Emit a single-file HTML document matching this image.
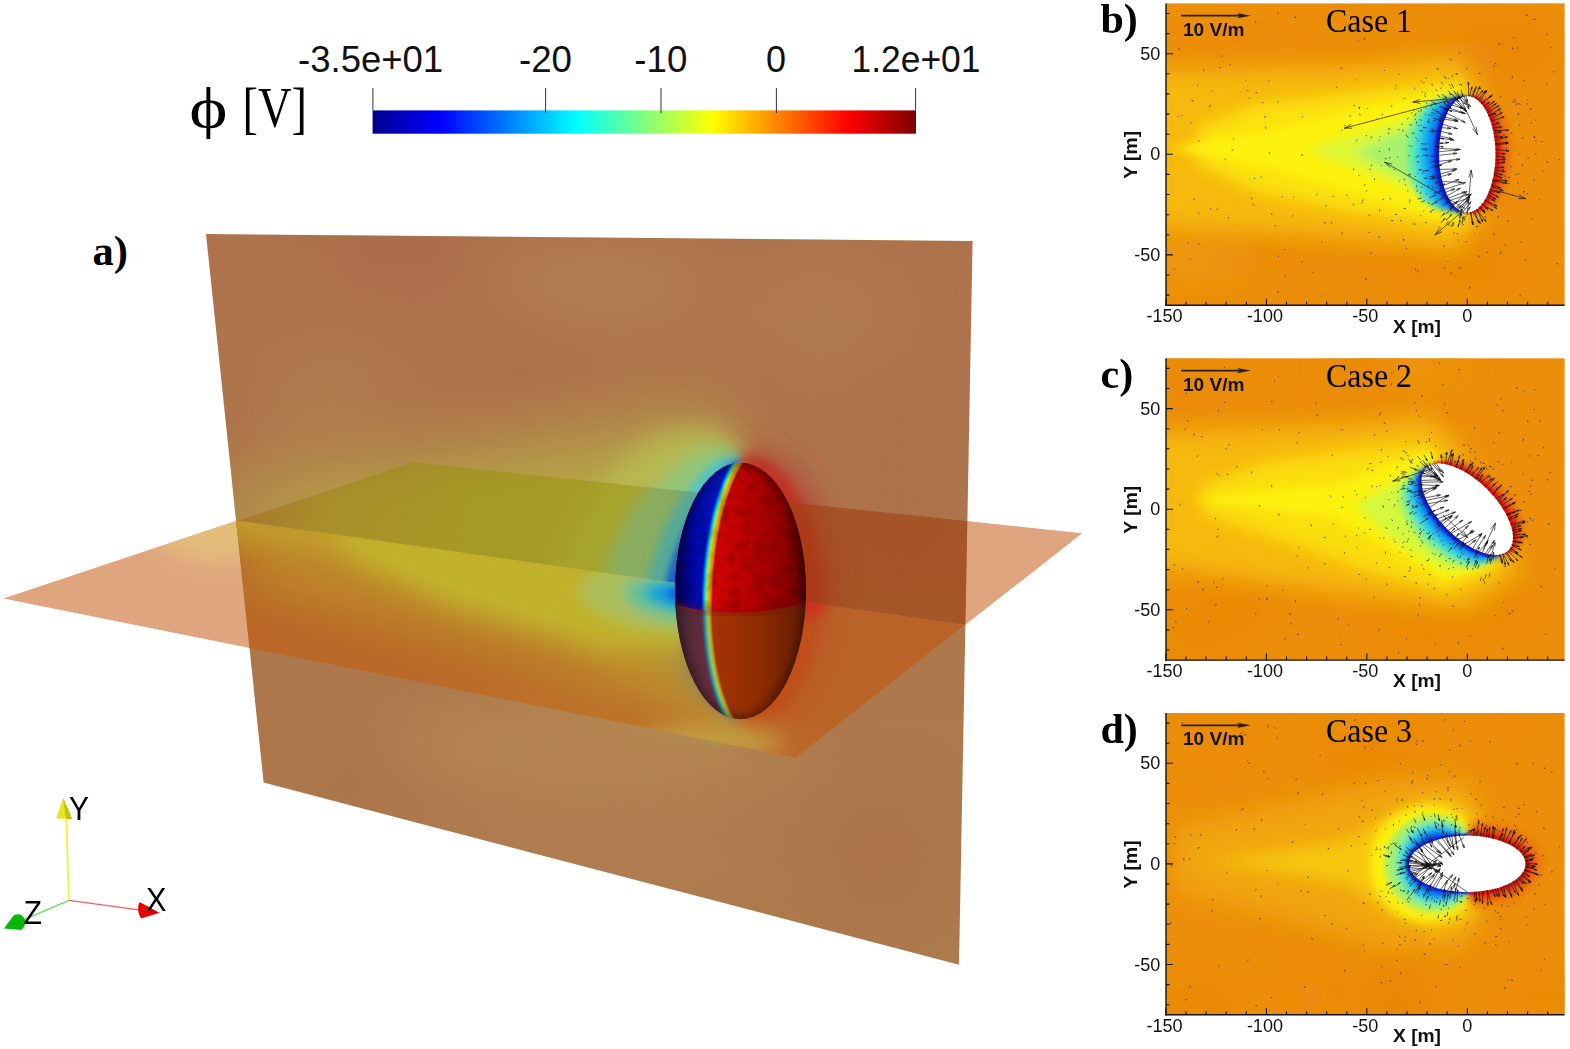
<!DOCTYPE html>
<html><head><meta charset="utf-8"><title>Potential around ellipsoid</title>
<style>
html,body{margin:0;padding:0;background:#fff;}
body{width:1570px;height:1049px;overflow:hidden;}
svg{display:block;}
.sans{font-family:"Liberation Sans",Arial,Helvetica,sans-serif;}
.serif{font-family:"Liberation Serif","Times New Roman",Times,serif;}
</style></head><body>
<svg width="1570" height="1049" viewBox="0 0 1570 1049">
<defs>
<linearGradient id="jet" x1="0" x2="1" y1="0" y2="0">
<stop offset="0" stop-color="#00008f"/><stop offset="0.125" stop-color="#0000ff"/>
<stop offset="0.375" stop-color="#00ffff"/><stop offset="0.5" stop-color="#80ff80"/><stop offset="0.625" stop-color="#ffff00"/>
<stop offset="0.875" stop-color="#ff0000"/><stop offset="1" stop-color="#800000"/>
</linearGradient>
<clipPath id="cV"><polygon points="206.0,234.0 972.6,241.0 959.0,964.7 263.6,782.4"/></clipPath>
<clipPath id="cHf"><polygon points="236.5,520.4 965.3,624.3 795.7,758.0 3.4,598.5"/></clipPath>
<clipPath id="cHb"><polygon points="236.5,521.1 412.7,462.1 1082.2,533.2 965.3,625.0"/></clipPath>
<clipPath id="cE"><ellipse cx="740.5" cy="591" rx="65.5" ry="128.3"/></clipPath>
<filter id="b30" x="-50%" y="-50%" width="200%" height="200%"><feGaussianBlur stdDeviation="30"/></filter>
<filter id="b20" x="-50%" y="-50%" width="200%" height="200%"><feGaussianBlur stdDeviation="20"/></filter>
<filter id="b12" x="-40%" y="-40%" width="180%" height="180%"><feGaussianBlur stdDeviation="12"/></filter>
<filter id="b8" x="-30%" y="-30%" width="160%" height="160%"><feGaussianBlur stdDeviation="8"/></filter>
<filter id="b5" x="-30%" y="-30%" width="160%" height="160%"><feGaussianBlur stdDeviation="5"/></filter>
<filter id="b3" x="-20%" y="-20%" width="140%" height="140%"><feGaussianBlur stdDeviation="3"/></filter>
<filter id="b2" x="-20%" y="-20%" width="140%" height="140%"><feGaussianBlur stdDeviation="1.8"/></filter>
<filter id="tex" x="0" y="0" width="100%" height="100%"><feTurbulence type="fractalNoise" baseFrequency="0.085" numOctaves="2" seed="4" result="n"/><feColorMatrix in="n" type="matrix" values="0 0 0 0 0  0 0 0 0 0  0 0 0 0 0  2.2 0 0 0 -1.0"/></filter>
<filter id="b1" x="-20%" y="-20%" width="140%" height="140%"><feGaussianBlur stdDeviation="0.9"/></filter>
<linearGradient id="gHb" gradientUnits="userSpaceOnUse" x1="240" y1="0" x2="970" y2="0">
<stop offset="0" stop-color="#a46a18"/><stop offset="0.14" stop-color="#9e8412"/><stop offset="0.32" stop-color="#99920b"/><stop offset="0.55" stop-color="#999410"/>
<stop offset="0.68" stop-color="#96640e"/><stop offset="0.78" stop-color="#9e3c0a"/><stop offset="1" stop-color="#9e3c0a"/>
</linearGradient>
<linearGradient id="gHf" gradientUnits="userSpaceOnUse" x1="240" y1="0" x2="970" y2="0">
<stop offset="0" stop-color="#c05c16"/><stop offset="0.5" stop-color="#c26a18"/><stop offset="0.75" stop-color="#c05c16"/><stop offset="1" stop-color="#c05815"/>
</linearGradient>
<linearGradient id="gEred" gradientUnits="userSpaceOnUse" x1="715" y1="0" x2="806" y2="0">
<stop offset="0" stop-color="#d00404"/><stop offset="0.35" stop-color="#b80202"/><stop offset="0.75" stop-color="#900000"/><stop offset="1" stop-color="#600000"/>
</linearGradient>
<linearGradient id="gEblue" gradientUnits="userSpaceOnUse" x1="675" y1="0" x2="740" y2="0">
<stop offset="0" stop-color="#000060"/><stop offset="0.3" stop-color="#0008a8"/><stop offset="0.8" stop-color="#0818c8"/><stop offset="1" stop-color="#1028d0"/>
</linearGradient>
</defs>
<rect width="1570" height="1049" fill="#fff"/>

<g id="colorbar">
<rect x="372.6" y="110.4" width="543.4" height="23.3" fill="url(#jet)"/>
<line x1="372.9" y1="88" x2="372.9" y2="110.4" stroke="#333" stroke-width="1"/>
<line x1="545.6" y1="88" x2="545.6" y2="113.2" stroke="#333" stroke-width="1"/>
<line x1="661.0" y1="88" x2="661.0" y2="113.2" stroke="#333" stroke-width="1"/>
<line x1="776.4" y1="88" x2="776.4" y2="113.2" stroke="#333" stroke-width="1"/>
<line x1="915.6" y1="88" x2="915.6" y2="110.4" stroke="#333" stroke-width="1"/>
<text class="sans" x="370.6" y="72" font-size="36.6" text-anchor="middle" textLength="145" lengthAdjust="spacingAndGlyphs" fill="#111">-3.5e+01</text>
<text class="sans" x="545.5" y="72" font-size="36.6" text-anchor="middle" textLength="53" lengthAdjust="spacingAndGlyphs" fill="#111">-20</text>
<text class="sans" x="660.8" y="72" font-size="36.6" text-anchor="middle" textLength="53" lengthAdjust="spacingAndGlyphs" fill="#111">-10</text>
<text class="sans" x="776" y="72" font-size="36.6" text-anchor="middle" textLength="20" lengthAdjust="spacingAndGlyphs" fill="#111">0</text>
<text class="sans" x="916" y="72" font-size="36.6" text-anchor="middle" textLength="129" lengthAdjust="spacingAndGlyphs" fill="#111">1.2e+01</text>
<text class="serif" transform="translate(189.3 126.5) scale(1.3 1)" font-size="56" fill="#000">ϕ</text>
<text class="serif" x="242.5" y="126.5" font-size="56" fill="#000" textLength="64.5" lengthAdjust="spacingAndGlyphs">[V]</text>
</g>
<g id="panelA">
<text class="serif" x="92.6" y="264.8" font-size="42.5" font-weight="bold" fill="#000">a)</text>
<polygon points="3.4,598.5 412.7,462.1 1082.2,533.2 795.7,758.0" fill="#dfa57e"/>
<clipPath id="cLt"><polygon points="3.4,598.5 236.5,521.1 249.5,648.0"/></clipPath>
<g clip-path="url(#cLt)"><ellipse cx="225" cy="535" rx="70" ry="28" fill="#e4c07c" filter="url(#b12)" opacity="0.9"/></g>
<linearGradient id="gV" gradientUnits="userSpaceOnUse" x1="0" y1="234" x2="0" y2="965"><stop offset="0" stop-color="#ae734c"/><stop offset="0.5" stop-color="#ae774c"/><stop offset="1" stop-color="#ad7b4c"/></linearGradient>
<polygon points="206.0,234.0 972.6,241.0 959.0,964.7 263.6,782.4" fill="url(#gV)"/>
<g clip-path="url(#cV)">
<g filter="url(#b30)" opacity="0.55">
<ellipse cx="400" cy="255" rx="80" ry="40" fill="#a96848"/>
<ellipse cx="520" cy="345" rx="70" ry="40" fill="#ab6c4a"/>
<ellipse cx="600" cy="285" rx="110" ry="45" fill="#b68454"/>
<ellipse cx="330" cy="420" rx="60" ry="70" fill="#b28250"/>
<ellipse cx="820" cy="310" rx="90" ry="60" fill="#b27e52"/>
<ellipse cx="900" cy="480" rx="50" ry="100" fill="#ab6e4a"/>
<ellipse cx="560" cy="860" rx="220" ry="45" fill="#b28052"/>
<ellipse cx="880" cy="860" rx="60" ry="70" fill="#ac704a"/>
<ellipse cx="400" cy="790" rx="100" ry="40" fill="#ac704a"/>
<ellipse cx="600" cy="745" rx="210" ry="55" fill="#ba8e58"/>
</g>
<g filter="url(#b30)" opacity="0.75">
<polygon points="215,480 560,425 700,400 745,450 745,720 640,700 500,640 250,610" fill="#b49e4a"/>
</g>
<g filter="url(#b20)" opacity="0.6">
<polygon points="300,500 600,455 720,440 720,640 560,600 300,570" fill="#b8ac44"/>
</g>
<clipPath id="cHaloR"><rect x="742" y="300" width="300" height="600"/></clipPath>
<path d="M742,452 C714,398 606,432 556,560 C540,615 600,690 738,738 Z" fill="#b8bc52" filter="url(#b12)" opacity="0.85"/>
<path d="M742,455 C718,428 650,458 616,570 C606,622 650,692 738,730 Z" fill="#90c67c" filter="url(#b8)" opacity="0.9"/>
<path d="M742,458 C724,446 680,478 654,575 C648,630 680,700 738,726 Z" fill="#4cc6cc" filter="url(#b5)"/>
<path d="M742,461 C730,456 692,496 668,580 C664,640 700,706 738,723 Z" fill="#1560e0" filter="url(#b3)"/>
<g filter="url(#b12)"><g clip-path="url(#cHaloR)">
<ellipse cx="748" cy="592" rx="92" ry="150" fill="#b43c34" opacity="0.55"/>
</g></g>
<g filter="url(#b5)"><g clip-path="url(#cHaloR)">
<ellipse cx="745" cy="592" rx="76" ry="137" fill="#c03020" opacity="0.85"/>
</g></g>
<g clip-path="url(#cHb)">
<polygon points="236.5,521.1 412.7,462.1 1082.2,533.2 965.3,625.0" fill="url(#gHb)" opacity="0.55"/>
<path d="M742,455 C718,428 640,458 604,570 C596,622 650,692 738,730 Z" fill="#84b070" filter="url(#b8)" opacity="0.7"/>
<path d="M742,458 C724,446 676,478 648,575 C642,630 680,700 738,726 Z" fill="#48a8a8" filter="url(#b5)" opacity="0.75"/>
<path d="M742,461 C730,456 690,496 666,580 C662,640 700,706 738,723 Z" fill="#1458d0" filter="url(#b3)" opacity="0.9"/>
</g>
<g clip-path="url(#cHf)">
<polygon points="236.5,521.1 965.3,625.0 795.7,758.0 3.4,598.5" fill="url(#gHf)" opacity="0.66"/>
<g filter="url(#b20)" opacity="0.5">
<polygon points="240,522 700,590 720,710 560,670 250,585" fill="#c09a2e"/>
</g>
<g filter="url(#b12)">
<polygon points="330,515 700,572 700,650 600,650 450,606 330,552" fill="#c2b42c" opacity="0.95"/>
<polygon points="215,496 345,517 345,556 215,538" fill="#c2a230" opacity="0.85"/>
</g>
<g transform="rotate(7 740 604)">
<g filter="url(#b8)">
<ellipse cx="670" cy="608" rx="92" ry="34" fill="#a8c060" opacity="0.9"/>
<ellipse cx="690" cy="605" rx="66" ry="23" fill="#50c0a8" opacity="0.95"/>
</g>
<g filter="url(#b5)">
<ellipse cx="697" cy="603" rx="50" ry="14" fill="#18a0e0"/>
<ellipse cx="702" cy="602" rx="37" ry="8.5" fill="#1048d8"/>
</g>
</g>
<g filter="url(#b5)">
<ellipse cx="790" cy="606" rx="36" ry="12" fill="#d02820" opacity="0.85"/>
</g>
<g filter="url(#b12)">
<ellipse cx="712" cy="742" rx="72" ry="18" fill="#c4ac48" opacity="0.8"/>
</g>
</g>
</g>
<g clip-path="url(#cE)">
<linearGradient id="gEredL" gradientUnits="userSpaceOnUse" x1="710" y1="0" x2="806" y2="0"><stop offset="0" stop-color="#a83404"/><stop offset="0.5" stop-color="#8e2c02"/><stop offset="1" stop-color="#641c02"/></linearGradient>
<linearGradient id="gEblueL" gradientUnits="userSpaceOnUse" x1="675" y1="0" x2="735" y2="0"><stop offset="0" stop-color="#4a2838"/><stop offset="0.5" stop-color="#642c3c"/><stop offset="1" stop-color="#6c2c3a"/></linearGradient>
<g>
<rect x="673.0" y="460.7" width="135.0" height="260.6" fill="url(#gEredL)"/>
<path d="M739.5,460.7 C702,520 696,660 731.5,721.3 L671.0,722.3 L671.0,459.7 Z" fill="url(#gEblueL)"/>
<path d="M738.0,460.7 C700.5,520 694.5,660 730.0,721.3" fill="none" stroke="#00b8ff" stroke-width="7" opacity="0.55" filter="url(#b1)"/>
<path d="M739.2,460.7 C701.7,520 695.7,660 731.2,721.3" fill="none" stroke="#40ff90" stroke-width="5" opacity="0.55" filter="url(#b1)"/>
<path d="M740.1,460.7 C702.6,520 696.6,660 732.1,721.3" fill="none" stroke="#ffe000" stroke-width="3.6" opacity="0.55" filter="url(#b1)"/>
<path d="M741.1,460.7 C703.6,520 697.6,660 733.1,721.3" fill="none" stroke="#ff6000" stroke-width="1.8" opacity="0.55" filter="url(#b1)"/>
</g>
<clipPath id="cEup"><path d="M670.0,457.7 L811.0,457.7 L811.0,601 Q740.5,624 670.0,603 Z"/></clipPath>
<g clip-path="url(#cEup)">
<rect x="673.0" y="460.7" width="135.0" height="260.6" fill="url(#gEred)"/>
<path d="M739.5,460.7 C702,520 696,660 731.5,721.3 L671.0,722.3 L671.0,459.7 Z" fill="url(#gEblue)"/>
<path d="M738.0,460.7 C700.5,520 694.5,660 730.0,721.3" fill="none" stroke="#00b8ff" stroke-width="7" opacity="1.0" filter="url(#b1)"/>
<path d="M739.2,460.7 C701.7,520 695.7,660 731.2,721.3" fill="none" stroke="#40ff90" stroke-width="5" opacity="1.0" filter="url(#b1)"/>
<path d="M740.1,460.7 C702.6,520 696.6,660 732.1,721.3" fill="none" stroke="#ffe000" stroke-width="3.6" opacity="1.0" filter="url(#b1)"/>
<path d="M741.1,460.7 C703.6,520 697.6,660 733.1,721.3" fill="none" stroke="#ff6000" stroke-width="1.8" opacity="1.0" filter="url(#b1)"/>
</g>
<g clip-path="url(#cEup)" opacity="0.22"><rect x="675.0" y="462.7" width="131.0" height="256.6" filter="url(#tex)"/></g>
<path d="M811.0,601 Q740.5,624 670.0,603" fill="none" stroke="#7a1010" stroke-width="5" opacity="0.5" filter="url(#b3)"/>
<ellipse cx="740.5" cy="591" rx="67.5" ry="130.3" fill="none" stroke="#000" stroke-opacity="0.4" stroke-width="12" filter="url(#b5)"/>
</g>
</g>
<g id="triad">
<line x1="68.9" y1="900.3" x2="66.3" y2="819" stroke="#f4f040" stroke-width="1.8"/>
<polygon points="63.2,798 56.2,818.5 72.2,819" fill="#e6e622"/>
<polygon points="63.2,798 66,819 72.2,819" fill="#c4c010"/>
<line x1="68.9" y1="900.3" x2="139" y2="909.8" stroke="#f06060" stroke-width="1.3"/>
<path d="M159.6,912.8 L139.5,902 Q136,910 141,918.6 Z" fill="#e80000"/>
<line x1="68.9" y1="900.3" x2="24" y2="919.6" stroke="#60e060" stroke-width="1.3"/>
<path d="M4,928.5 L14,915 Q22,912 25,920 Q26,927 21,930 Z" fill="#08b808"/>
<text class="sans" x="69" y="819.5" font-size="33" fill="#000" textLength="20" lengthAdjust="spacingAndGlyphs">Y</text>
<text class="sans" x="146" y="911" font-size="33" fill="#000" textLength="20.5" lengthAdjust="spacingAndGlyphs">X</text>
<text class="sans" x="23.5" y="924" font-size="33" fill="#000" textLength="18.5" lengthAdjust="spacingAndGlyphs">Z</text>
</g>
<g id="panelb">
<clipPath id="cp0"><rect x="1166.0" y="3.4" width="398.5999999999999" height="301.8"/></clipPath>
<rect x="1166.0" y="3.4" width="398.5999999999999" height="301.8" fill="#ec8e0a"/>
<g clip-path="url(#cp0)">
<g filter="url(#b20)">
<ellipse cx="1223" cy="251" rx="40" ry="27" fill="#ef9a0c" opacity="0.8"/>
<ellipse cx="1375" cy="68" rx="37" ry="20" fill="#ea8808" opacity="0.8"/>
<ellipse cx="1467" cy="59" rx="38" ry="21" fill="#ef9a0c" opacity="0.8"/>
<ellipse cx="1493" cy="273" rx="31" ry="25" fill="#eb8a08" opacity="0.8"/>
<ellipse cx="1215" cy="73" rx="31" ry="15" fill="#ea8808" opacity="0.8"/>
<ellipse cx="1427" cy="249" rx="47" ry="26" fill="#ea8808" opacity="0.8"/>
<ellipse cx="1187" cy="262" rx="43" ry="20" fill="#ef9a0c" opacity="0.8"/>
<ellipse cx="1501" cy="48" rx="56" ry="25" fill="#e98406" opacity="0.8"/>
<ellipse cx="1265" cy="241" rx="57" ry="19" fill="#eb8a08" opacity="0.8"/>
</g>
<g filter="url(#b12)">
<polygon points="1145.9,226.7 1145.9,69.8 1346.8,65.8 1457.3,57.7 1483.4,93.9 1483.4,214.7 1457.3,250.9 1346.8,238.8" fill="#f7bc0e" opacity="0.95"/>
</g>
<g filter="url(#b8)">
<polygon points="1198.1,164.4 1198.1,128.1 1258.4,104.0 1346.8,93.9 1463.3,79.9 1463.3,228.7 1346.8,210.6 1258.4,192.5" fill="#fce410" opacity="0.95"/>
</g>
<g filter="url(#b5)">
<polygon points="1166.0,148.3 1266.4,132.2 1461.3,85.9 1461.3,222.7 1266.4,166.4" fill="#fdf210"/>
</g>
<g filter="url(#b5)">
<polygon points="1306.6,150.3 1386.9,124.1 1459.3,98.0 1459.3,210.6 1386.9,180.5" fill="#dcf834"/>
<polygon points="1354.8,152.3 1407.0,128.1 1459.3,104.0 1459.3,204.6 1407.0,180.5" fill="#a8f26c"/>
</g>
<g filter="url(#b3)">
<ellipse cx="1436.3" cy="154.3" rx="28.3" ry="52.5" transform="rotate(0 1436.3 154.3)" fill="#5ceab0"/>
<ellipse cx="1445.3" cy="154.3" rx="28.3" ry="56.0" transform="rotate(0 1445.3 154.3)" fill="#18c8f0"/>
<ellipse cx="1452.3" cy="154.3" rx="28.3" ry="57.2" transform="rotate(0 1452.3 154.3)" fill="#10a0f8"/>
<ellipse cx="1457.8" cy="154.3" rx="28.3" ry="57.8" transform="rotate(0 1457.8 154.3)" fill="#0860f0"/>
<ellipse cx="1482.3" cy="154.3" rx="28.3" ry="56.6" transform="rotate(0 1482.3 154.3)" fill="#ec7010"/>
<ellipse cx="1475.3" cy="154.3" rx="28.3" ry="57.8" transform="rotate(0 1475.3 154.3)" fill="#e02808"/>
</g>
<g filter="url(#b1)">
<ellipse cx="1462.8" cy="154.3" rx="28.3" ry="58.3" transform="rotate(0 1462.8 154.3)" fill="#0818c8"/>
<ellipse cx="1470.8" cy="154.3" rx="28.3" ry="58.3" transform="rotate(0 1470.8 154.3)" fill="#d80808"/>
</g>
<ellipse cx="1467.3" cy="154.3" rx="28.3" ry="58.3" transform="rotate(0 1467.3 154.3)" fill="#fff"/>
<path d="M1495.6,153.2L1504.8,153.8M1504.8,153.8l-2.2,0.5M1504.8,153.8l-2.1,-0.8M1495.5,149.5L1508.7,151.0M1508.7,151.0l-2.2,0.4M1508.7,151.0l-2.0,-0.8M1495.3,145.0L1508.0,143.3M1508.0,143.3l-2.0,0.9M1508.0,143.3l-2.2,-0.3M1495.2,143.7L1507.6,142.4M1507.6,142.4l-2.0,0.8M1507.6,142.4l-2.2,-0.4M1494.8,140.4L1507.1,136.9M1507.1,136.9l-1.9,1.2M1507.1,136.9l-2.2,-0.0M1494.3,136.9L1502.5,137.2M1502.5,137.2l-2.1,0.5M1502.5,137.2l-2.1,-0.7M1493.7,133.3L1501.0,131.9M1501.0,131.9l-2.0,1.0M1501.0,131.9l-2.2,-0.2M1493.2,130.7L1508.2,130.1M1508.2,130.1l-2.1,0.7M1508.2,130.1l-2.1,-0.5M1492.6,128.2L1501.5,126.7M1501.5,126.7l-2.0,0.9M1501.5,126.7l-2.2,-0.3M1491.8,125.0L1498.7,122.8M1498.7,122.8l-1.8,1.2M1498.7,122.8l-2.2,0.1M1490.7,121.6L1503.8,116.8M1503.8,116.8l-1.8,1.3M1503.8,116.8l-2.2,0.2M1490.0,119.4L1501.8,112.7M1501.8,112.7l-1.5,1.6M1501.8,112.7l-2.1,0.5M1488.7,116.0L1500.3,108.7M1500.3,108.7l-1.5,1.6M1500.3,108.7l-2.1,0.6M1488.4,115.5L1495.6,113.8M1495.6,113.8l-1.9,1.1M1495.6,113.8l-2.2,-0.1M1487.2,112.7L1498.8,105.7M1498.8,105.7l-1.5,1.6M1498.8,105.7l-2.1,0.6M1486.1,110.6L1496.1,103.6M1496.1,103.6l-1.4,1.7M1496.1,103.6l-2.1,0.7M1484.7,108.3L1494.2,101.5M1494.2,101.5l-1.4,1.7M1494.2,101.5l-2.1,0.7M1483.2,106.0L1489.5,102.4M1489.5,102.4l-1.5,1.6M1489.5,102.4l-2.1,0.5M1481.4,103.7L1492.1,95.1M1492.1,95.1l-1.3,1.8M1492.1,95.1l-2.0,0.9M1481.2,103.5L1491.3,96.0M1491.3,96.0l-1.3,1.8M1491.3,96.0l-2.1,0.8M1479.1,101.3L1486.7,90.9M1486.7,90.9l-0.8,2.1M1486.7,90.9l-1.7,1.3M1477.6,99.9L1485.3,91.0M1485.3,91.0l-0.9,2.0M1485.3,91.0l-1.8,1.2M1475.8,98.6L1482.7,90.7M1482.7,90.7l-0.9,2.0M1482.7,90.7l-1.8,1.2M1475.0,98.2L1479.6,86.8M1479.6,86.8l-0.2,2.2M1479.6,86.8l-1.4,1.7M1472.7,97.0L1476.0,87.1M1476.0,87.1l-0.1,2.2M1476.0,87.1l-1.2,1.8M1471.5,96.6L1474.8,89.8M1474.8,89.8l-0.4,2.2M1474.8,89.8l-1.5,1.6M1469.7,96.2L1471.9,87.1M1471.9,87.1l0.1,2.2M1471.9,87.1l-1.1,1.9M1468.8,96.0L1468.4,82.3M1468.4,82.3l0.7,2.1M1468.4,82.3l-0.5,2.1M1466.1,96.0L1467.2,102.2M1467.2,102.2l-1.2,-2.6M1467.2,102.2l0.3,-2.8M1464.0,96.4L1468.8,108.8M1468.8,108.8l-1.9,-2.5M1468.8,108.8l-0.3,-3.2M1461.2,89.8L1462.7,95.8M1462.7,95.8l-0.8,-1.4M1462.7,95.8l0.1,-1.6M1461.6,97.2L1470.5,106.6M1470.5,106.6l-2.8,-1.6M1470.5,106.6l-1.5,-2.8M1457.3,91.8L1460.1,98.3M1460.1,98.3l-1.0,-1.2M1460.1,98.3l-0.2,-1.6M1451.6,84.0l2.0,3.8M1459.4,98.3L1466.3,104.5M1466.3,104.5l-2.9,-1.4M1466.3,104.5l-1.7,-2.7M1453.9,90.8l1.9,3.2M1444.1,76.0l1.8,2.7M1457.4,99.6L1466.2,110.7M1466.2,110.7l-2.6,-1.9M1466.2,110.7l-1.2,-3.0M1455.6,93.4L1459.2,98.0M1459.2,98.0l-1.3,-0.9M1459.2,98.0l-0.6,-1.5M1448.3,90.9L1451.1,94.6M1451.1,94.6l-1.3,-0.9M1451.1,94.6l-0.6,-1.5M1452.3,94.4L1456.1,98.7M1456.1,98.7l-1.3,-0.9M1456.1,98.7l-0.7,-1.4M1456.0,100.8L1466.0,111.4M1466.0,111.4l-2.8,-1.6M1466.0,111.4l-1.5,-2.8M1454.5,97.0L1458.2,101.1M1458.2,101.1l-1.4,-0.8M1458.2,101.1l-0.7,-1.4M1441.3,82.2l1.5,1.7M1453.7,103.1L1462.6,108.1M1462.6,108.1l-3.1,-0.7M1462.6,108.1l-2.2,-2.3M1442.2,94.2L1446.6,98.2M1446.6,98.2l-1.4,-0.7M1446.6,98.2l-0.9,-1.4M1443.2,98.2L1448.9,102.8M1448.9,102.8l-1.5,-0.6M1448.9,102.8l-0.9,-1.3M1452.0,105.1L1463.4,108.6M1463.4,108.6l-3.2,-0.0M1463.4,108.6l-2.7,-1.7M1437.3,95.0l2.5,1.9M1443.9,103.1L1451.0,108.1M1451.0,108.1l-1.5,-0.5M1451.0,108.1l-1.0,-1.2M1449.9,108.2L1463.1,112.8M1463.1,112.8l-3.2,-0.2M1463.1,112.8l-2.6,-1.9M1441.2,106.6L1446.9,110.0M1446.9,110.0l-1.6,-0.4M1446.9,110.0l-1.1,-1.2M1448.9,110.0L1465.1,113.4M1465.1,113.4l-3.2,0.2M1465.1,113.4l-2.8,-1.5M1444.4,107.5L1451.5,111.5M1451.5,111.5l-1.6,-0.4M1451.5,111.5l-1.1,-1.1M1431.7,101.7L1435.8,104.0M1435.8,104.0l-1.6,-0.4M1435.8,104.0l-1.1,-1.1M1439.8,106.5L1445.9,109.8M1445.9,109.8l-1.6,-0.3M1445.9,109.8l-1.1,-1.1M1447.1,113.4L1464.9,122.3M1464.9,122.3l-3.1,-0.6M1464.9,122.3l-2.4,-2.2M1432.3,109.2L1438.3,112.1M1438.3,112.1l-1.6,-0.3M1438.3,112.1l-1.2,-1.1M1438.7,113.1L1445.0,115.8M1445.0,115.8l-1.6,-0.2M1445.0,115.8l-1.2,-1.0M1445.4,117.2L1457.2,120.3M1457.2,120.3l-3.2,0.1M1457.2,120.3l-2.7,-1.6M1431.8,112.7l3.5,1.3M1444.6,119.3L1457.8,121.2M1457.8,121.2l-3.2,0.4M1457.8,121.2l-2.9,-1.3M1433.4,118.2L1440.5,120.4M1440.5,120.4l-1.6,-0.0M1440.5,120.4l-1.3,-0.9M1428.9,114.7l3.8,1.2M1443.0,124.3L1457.1,128.7M1457.1,128.7l-3.2,-0.1M1457.1,128.7l-2.7,-1.8M1442.1,127.7L1450.6,128.4M1450.6,128.4l-3.1,0.6M1450.6,128.4l-3.0,-1.1M1441.2,131.4L1451.7,134.1M1451.7,134.1l-3.2,0.1M1451.7,134.1l-2.8,-1.6M1431.7,130.1L1439.0,131.6M1439.0,131.6l-1.6,0.1M1439.0,131.6l-1.4,-0.7M1423.6,127.2l2.9,0.6M1428.6,131.0L1433.7,132.0M1433.7,132.0l-1.6,0.2M1433.7,132.0l-1.4,-0.7M1419.7,130.5l2.8,0.5M1440.4,136.1L1452.0,138.9M1452.0,138.9l-3.2,0.2M1452.0,138.9l-2.8,-1.6M1436.7,137.7L1443.4,138.7M1443.4,138.7l-1.6,0.2M1443.4,138.7l-1.5,-0.7M1440.1,138.3L1453.6,140.0M1453.6,140.0l-3.2,0.5M1453.6,140.0l-2.9,-1.3M1412.0,133.0l2.0,0.3M1436.1,142.7L1442.6,143.3M1442.6,143.3l-1.6,0.3M1442.6,143.3l-1.5,-0.6M1439.4,143.8L1448.7,142.4M1448.7,142.4l-2.9,1.3M1448.7,142.4l-3.2,-0.4M1421.4,143.6l4.4,0.4M1435.3,146.3L1443.0,146.8M1443.0,146.8l-1.6,0.3M1443.0,146.8l-1.5,-0.5M1439.1,148.4L1460.0,149.5M1460.0,149.5l-3.1,0.7M1460.0,149.5l-3.0,-1.0M1435.5,146.6l3.7,0.2M1421.4,149.1L1426.8,149.3M1426.8,149.3l-1.6,0.4M1426.8,149.3l-1.5,-0.5M1439.0,151.8L1457.4,149.9M1457.4,149.9l-3.0,1.2M1457.4,149.9l-3.1,-0.6M1439.0,155.3L1456.5,153.3M1456.5,153.3l-2.9,1.2M1456.5,153.3l-3.2,-0.5M1430.2,156.1l4.2,-0.0M1422.6,155.5L1427.6,155.4M1427.6,155.4l-1.5,0.5M1427.6,155.4l-1.5,-0.4M1431.4,161.4l4.3,-0.2M1439.2,161.2L1459.6,159.2M1459.6,159.2l-3.0,1.2M1459.6,159.2l-3.1,-0.6M1430.8,161.8L1437.3,161.4M1437.3,161.4l-1.5,0.5M1437.3,161.4l-1.6,-0.4M1434.5,165.6L1441.5,165.1M1441.5,165.1l-1.5,0.6M1441.5,165.1l-1.6,-0.3M1439.4,164.7L1451.4,160.8M1451.4,160.8l-2.6,1.8M1451.4,160.8l-3.2,0.1M1431.6,167.0L1438.5,166.4M1438.5,166.4l-1.5,0.6M1438.5,166.4l-1.6,-0.3M1418.6,169.9l2.4,-0.3M1439.9,169.3L1456.7,169.1M1456.7,169.1l-3.1,0.9M1456.7,169.1l-3.1,-0.9M1422.9,171.1L1428.2,170.4M1428.2,170.4l-1.5,0.6M1428.2,170.4l-1.6,-0.2M1440.6,173.9L1455.1,170.1M1455.1,170.1l-2.7,1.6M1455.1,170.1l-3.2,-0.1M1424.5,178.5l2.7,-0.5M1432.0,178.7L1438.9,177.4M1438.9,177.4l-1.4,0.7M1438.9,177.4l-1.6,-0.1M1429.6,179.0L1434.0,178.1M1434.0,178.1l-1.4,0.7M1434.0,178.1l-1.6,-0.1M1441.1,176.5L1451.2,173.9M1451.2,173.9l-2.8,1.6M1451.2,173.9l-3.2,-0.1M1429.8,176.9L1434.4,176.0M1434.4,176.0l-1.4,0.7M1434.4,176.0l-1.6,-0.1M1442.2,181.5L1461.6,182.4M1461.6,182.4l-3.1,0.7M1461.6,182.4l-3.0,-1.0M1434.8,183.1l4.0,-1.1M1443.4,185.5L1458.5,179.6M1458.5,179.6l-2.5,1.9M1458.5,179.6l-3.2,0.3M1437.4,186.3L1444.4,184.1M1444.4,184.1l-1.3,0.9M1444.4,184.1l-1.6,0.0M1444.7,189.4L1465.3,182.6M1465.3,182.6l-2.6,1.8M1465.3,182.6l-3.2,0.1M1434.5,193.5L1441.2,191.1M1441.2,191.1l-1.3,0.9M1441.2,191.1l-1.6,0.1M1418.0,199.1l3.4,-1.2M1445.8,192.3L1454.5,188.9M1454.5,188.9l-2.5,1.9M1454.5,188.9l-3.2,0.3M1429.8,197.5L1435.0,195.3M1435.0,195.3l-1.2,1.0M1435.0,195.3l-1.6,0.2M1421.7,201.9l2.8,-1.2M1447.4,195.8L1460.0,188.3M1460.0,188.3l-2.2,2.3M1460.0,188.3l-3.1,0.8M1437.2,200.6L1442.7,197.9M1442.7,197.9l-1.2,1.1M1442.7,197.9l-1.6,0.3M1432.2,204.2L1436.7,201.8M1436.7,201.8l-1.2,1.1M1436.7,201.8l-1.6,0.3M1448.6,198.2L1464.8,191.8M1464.8,191.8l-2.5,2.0M1464.8,191.8l-3.2,0.3M1450.0,200.5L1468.5,194.3M1468.5,194.3l-2.6,1.8M1468.5,194.3l-3.2,0.1M1442.8,205.1L1448.7,201.4M1448.7,201.4l-1.1,1.2M1448.7,201.4l-1.5,0.4M1430.5,211.6l3.4,-2.1M1452.3,203.8L1469.6,197.5M1469.6,197.5l-2.6,1.9M1469.6,197.5l-3.2,0.2M1453.7,205.5L1466.7,191.4M1466.7,191.4l-1.4,2.9M1466.7,191.4l-2.7,1.7M1449.2,209.5l3.2,-2.8M1441.0,216.6L1444.4,213.6M1444.4,213.6l-0.9,1.4M1444.4,213.6l-1.4,0.7M1450.4,207.7L1456.8,201.6M1456.8,201.6l-0.8,1.4M1456.8,201.6l-1.4,0.7M1446.3,213.7l2.4,-2.3M1455.6,207.4L1471.1,194.3M1471.1,194.3l-1.8,2.7M1471.1,194.3l-2.9,1.3M1450.2,209.8l2.6,-2.8M1441.1,222.6L1444.6,218.8M1444.6,218.8l-0.7,1.4M1444.6,218.8l-1.4,0.8M1455.7,209.8l2.7,-3.3M1447.3,219.4L1451.1,214.8M1451.1,214.8l-0.6,1.5M1451.1,214.8l-1.3,0.9M1457.4,208.9L1469.0,199.1M1469.0,199.1l-1.8,2.7M1469.0,199.1l-2.9,1.3M1446.0,224.4l2.2,-2.9M1448.1,225.7l1.9,-2.6M1459.8,210.5L1469.9,195.2M1469.9,195.2l-0.9,3.1M1469.9,195.2l-2.4,2.1M1456.8,212.9L1460.5,206.3M1460.5,206.3l-0.4,1.6M1460.5,206.3l-1.1,1.1M1451.1,226.1l2.2,-3.9M1452.4,226.4l1.6,-3.3M1461.3,211.3L1468.8,200.1M1468.8,200.1l-1.0,3.1M1468.8,200.1l-2.4,2.1M1459.7,219.0L1461.2,214.2M1461.2,214.2l-0.0,1.6M1461.2,214.2l-0.9,1.3M1458.3,226.6l0.8,-2.6M1463.2,212.0L1470.8,202.0M1470.8,202.0l-1.1,3.0M1470.8,202.0l-2.6,1.9M1459.4,217.4L1461.8,209.3M1461.8,209.3l-0.0,1.6M1461.8,209.3l-0.9,1.3M1458.2,226.5L1460.0,220.4M1460.0,220.4l-0.0,1.6M1460.0,220.4l-0.9,1.3M1464.6,220.1l0.6,-3.7M1462.0,224.1L1463.1,217.1M1463.1,217.1l0.2,1.6M1463.1,217.1l-0.7,1.4M1465.9,212.6L1470.0,207.1M1470.0,207.1l-1.1,2.9M1470.0,207.1l-2.4,1.9M1470.5,212.3L1473.0,224.6M1473.0,224.6l-1.0,-1.9M1473.0,224.6l0.2,-2.2M1470.9,212.2L1472.6,223.8M1472.6,223.8l-0.9,-2.0M1472.6,223.8l0.3,-2.2M1472.7,211.6L1480.2,223.3M1480.2,223.3l-1.7,-1.5M1480.2,223.3l-0.6,-2.1M1474.5,210.7L1478.5,222.2M1478.5,222.2l-1.3,-1.8M1478.5,222.2l-0.1,-2.2M1476.5,209.5L1485.8,221.2M1485.8,221.2l-1.8,-1.3M1485.8,221.2l-0.8,-2.0M1476.7,209.3L1482.5,221.7M1482.5,221.7l-1.4,-1.7M1482.5,221.7l-0.3,-2.2M1478.9,207.5L1484.6,211.8M1484.6,211.8l-2.1,-0.8M1484.6,211.8l-1.3,-1.8M1479.8,206.6L1484.6,212.2M1484.6,212.2l-1.8,-1.2M1484.6,212.2l-0.9,-2.0M1482.0,204.2L1492.7,210.6M1492.7,210.6l-2.1,-0.6M1492.7,210.6l-1.5,-1.6M1482.3,203.8L1487.4,209.1M1487.4,209.1l-1.9,-1.1M1487.4,209.1l-1.0,-1.9M1484.8,200.2L1496.5,208.3M1496.5,208.3l-2.1,-0.7M1496.5,208.3l-1.4,-1.7M1484.8,200.2L1496.7,205.9M1496.7,205.9l-2.2,-0.4M1496.7,205.9l-1.6,-1.5M1487.0,196.3L1494.7,200.9M1494.7,200.9l-2.1,-0.6M1494.7,200.9l-1.5,-1.6M1487.9,194.4L1495.6,199.1M1495.6,199.1l-2.1,-0.6M1495.6,199.1l-1.5,-1.6M1488.9,192.0L1498.0,197.1M1498.0,197.1l-2.1,-0.5M1498.0,197.1l-1.5,-1.6M1489.8,189.8L1499.2,192.6M1499.2,192.6l-2.2,-0.0M1499.2,192.6l-1.9,-1.2M1491.1,186.0L1502.9,190.7M1502.9,190.7l-2.2,-0.2M1502.9,190.7l-1.7,-1.3M1491.6,184.3L1500.2,188.0M1500.2,188.0l-2.2,-0.3M1500.2,188.0l-1.7,-1.4M1492.5,180.8L1506.8,183.1M1506.8,183.1l-2.2,0.3M1506.8,183.1l-2.0,-0.9M1492.7,180.1L1507.1,180.8M1507.1,180.8l-2.1,0.5M1507.1,180.8l-2.1,-0.7M1493.8,174.8L1501.5,177.8M1501.5,177.8l-2.2,-0.2M1501.5,177.8l-1.8,-1.3M1494.2,172.8L1502.2,174.7M1502.2,174.7l-2.2,0.1M1502.2,174.7l-1.9,-1.1M1494.6,169.9L1505.0,171.5M1505.0,171.5l-2.2,0.3M1505.0,171.5l-2.0,-0.9M1494.8,167.9L1503.1,167.4M1503.1,167.4l-2.1,0.7M1503.1,167.4l-2.1,-0.5M1495.3,163.4L1504.5,162.4M1504.5,162.4l-2.0,0.8M1504.5,162.4l-2.2,-0.4M1495.5,159.8L1505.1,159.4M1505.1,159.4l-2.1,0.7M1505.1,159.4l-2.1,-0.5M1495.6,155.9L1504.6,157.4M1504.6,157.4l-2.2,0.3M1504.6,157.4l-2.0,-0.9M1465.3,96.0L1344.8,128.1M1344.8,128.1l6.0,-3.6M1344.8,128.1l7.0,0.1M1461.3,98.0L1413.1,102.0M1413.1,102.0l6.5,-2.5M1413.1,102.0l6.9,1.4M1465.3,208.6L1384.9,162.3M1384.9,162.3l6.8,1.7M1384.9,162.3l4.9,5.0M1463.3,210.6L1435.2,234.8M1435.2,234.8l3.8,-5.9M1435.2,234.8l6.4,-2.9M1461.3,100.0L1477.3,134.2M1477.3,134.2l-4.6,-5.3M1477.3,134.2l-1.1,-6.9M1467.3,214.7L1471.3,170.4M1471.3,170.4l1.3,6.9M1471.3,170.4l-2.5,6.5M1495.4,190.5L1525.6,198.6M1525.6,198.6l-7.0,0.1M1525.6,198.6l-6.0,-3.6" fill="none" stroke="#111" stroke-width="0.65" stroke-linecap="round"/>
<path d="M1505.6,178.3l-0.3,-0.1M1396.7,214.5l-1.1,-0.2M1501.6,179.4l-0.7,-0.1M1477.6,226.9l-1.4,-0.4M1531.4,123.1l0.4,-0.2M1432.9,121.1l1.3,-0.4M1415.3,119.3l0.4,-0.0M1415.3,114.8l0.7,-1.3M1458.5,240.2l-0.2,-0.4M1527.5,100.3l0.3,-0.4M1516.2,104.5l1.3,-0.7M1446.1,198.2l-1.3,-0.7M1413.3,224.4l0.1,-0.8M1368.8,232.4l0.8,-0.1M1367.7,108.7l-0.2,-0.5M1459.3,53.8l0.1,-0.6M1419.3,126.2l-1.2,-0.8M1410.1,200.5l-0.5,-1.0M1536.2,141.0l-0.4,-0.2M1430.6,212.3l0.5,-0.2M1416.4,186.8l0.1,-1.2M1423.4,83.0l0.7,-0.1M1502.4,183.2l-0.1,-1.3M1432.6,187.0l-0.5,-0.3M1440.8,118.0l-1.5,-0.4M1506.6,149.6l0.0,-1.4M1527.7,194.2l-0.2,-0.6M1480.0,73.7l-1.1,-0.3M1416.8,138.8l-1.2,-1.1M1442.0,210.3l0.2,-0.4M1421.0,216.0l-0.7,-0.6M1423.0,173.2l-0.6,-0.3M1435.8,182.9l0.7,-1.0M1426.9,194.4l-0.6,-0.8M1409.8,124.9l1.5,-0.2M1498.9,131.4l0.4,-0.2M1503.5,183.2l0.2,-0.5M1515.2,100.6l-0.6,-1.2M1431.3,106.1l-0.9,-0.4M1496.6,130.1l-0.5,-0.2M1446.8,219.8l-0.4,-0.7M1395.6,88.4l0.3,-0.3M1428.2,186.9l0.4,-1.2M1371.2,166.0l0.4,-1.1M1392.9,220.7l-1.5,-0.3M1370.7,169.6l-0.9,-0.5M1490.6,191.1l1.5,-0.2M1427.9,122.6l-0.2,-1.2M1384.8,70.6l-0.2,-0.4M1368.9,215.1l0.9,-0.0M1484.8,213.0l-0.4,-0.0M1406.7,248.8l-0.6,-0.4M1542.6,141.7l-0.8,-0.2M1376.6,118.8l0.3,-0.1M1424.2,128.0l-1.1,-0.5M1408.2,175.0l1.3,-0.9M1432.4,189.3l0.5,-0.4M1418.4,156.2l0.2,-0.8M1425.7,108.2l-0.3,-0.5M1505.2,176.4l0.2,-0.6M1405.6,185.1l-0.2,-0.6M1423.7,211.4l0.2,-0.3M1416.9,191.3l0.4,-1.0M1516.2,174.7l0.8,-0.3M1503.9,160.8l0.2,-0.3M1411.4,146.7l0.4,-0.6M1395.4,86.0l0.7,-0.5M1510.7,166.9l-0.1,-0.5M1495.9,64.2l-0.7,-0.9M1529.9,109.2l1.5,-0.2M1425.1,96.5l-0.3,-0.9M1512.4,101.9l0.8,-0.4M1498.1,124.9l1.0,-1.2M1522.2,138.1l0.9,-0.3M1504.0,136.2l0.1,-1.4M1425.3,93.9l0.2,-0.7M1528.0,158.5l0.5,-0.8M1451.2,59.9l-1.3,-0.7M1359.1,175.4l0.6,-0.6M1418.0,156.4l-0.7,-0.7M1459.3,84.8l1.1,-0.3M1501.1,191.6l-0.7,-0.9M1523.2,191.9l1.3,-0.5M1409.4,202.1l0.0,-0.7M1461.6,85.7l0.0,-1.1M1379.5,211.0l-0.1,-1.2M1415.4,176.6l0.5,-0.3M1389.8,158.0l0.1,-0.7M1480.7,89.1l-0.2,-1.1M1474.0,233.7l0.2,-0.2M1380.1,136.9l-0.3,-0.3M1534.4,137.5l0.2,-0.4M1535.7,120.5l-0.2,-0.5M1407.5,119.2l0.5,-1.2M1453.0,206.9l0.4,-0.8M1535.8,153.9l-0.3,-0.2M1385.2,158.9l0.9,-0.3M1389.1,150.2l0.2,-1.6M1353.6,105.8l0.9,-0.3M1534.2,180.5l0.1,-0.8M1417.8,173.5l-0.4,-0.4M1418.4,162.8l-0.1,-1.0M1466.6,69.0l0.3,-1.1M1486.8,252.5l1.0,-0.5M1397.8,156.8l-0.4,-0.0M1420.2,193.5l0.7,-1.4M1448.5,78.7l-0.3,-0.4M1440.8,88.5l0.1,-0.5M1414.7,88.8l-0.5,-0.9M1399.3,74.3l-0.6,-0.5M1409.8,175.4l0.2,-1.4M1405.3,208.5l-1.4,-0.1M1402.9,131.2l-0.0,-1.1M1407.9,191.2l-0.2,-0.6M1403.6,240.5l0.3,-1.0M1478.9,256.8l0.2,-1.0M1425.5,114.9l-0.3,-0.6M1426.7,222.8l-1.0,-0.1M1432.7,84.9l-1.2,-0.7M1493.5,183.2l0.5,-0.4M1432.0,129.5l0.1,-0.9M1388.7,133.7l-0.2,-0.8M1515.2,102.4l-0.3,-0.5M1402.2,124.6l-0.3,-0.5M1432.2,204.8l-0.6,-0.1M1383.7,199.8l-1.0,-0.5M1359.5,108.5l0.1,-1.4M1523.0,165.4l-1.3,-0.4M1412.0,113.1l-0.0,-0.5M1370.8,138.0l0.9,-1.3M1408.2,137.2l-0.8,-0.7M1497.3,180.2l1.2,-0.7M1498.2,160.8l-0.6,-0.5M1333.4,196.5l-0.7,-0.2M1524.2,81.4l-0.9,-1.1M1414.0,110.4l-0.6,-0.1M1485.9,217.2l-1.1,-0.5M1451.1,208.9l0.9,-0.5M1421.4,125.5l-0.6,-0.8M1512.1,78.1l0.4,-1.4M1519.1,173.7l-0.1,-0.3M1450.8,210.9l1.1,-0.6M1490.4,198.1l-0.4,-0.4M1503.9,162.4l0.4,-1.0M1401.1,221.1l-0.9,-1.0M1494.1,234.9l-0.4,-1.5M1422.0,187.2l-0.5,-0.2M1426.8,103.3l-0.6,-0.2M1448.5,105.4l-0.2,-0.3M1417.9,140.9l0.6,-0.2M1453.7,233.1l0.4,-0.7M1444.3,246.6l-1.2,-1.0M1416.6,123.2l-0.1,-1.3M1404.6,179.9l-0.4,-1.0M1435.5,188.2l0.3,-0.3M1424.8,173.9l-0.5,-0.5M1366.1,135.7l0.6,-0.0M1542.9,171.5l-0.5,-0.6M1418.7,111.7l-0.5,-0.8M1415.8,224.2l-0.9,-0.2M1403.6,98.7l0.4,-0.4M1381.3,165.4l-0.2,-0.2M1498.0,217.3l0.8,-1.4M1388.2,129.3l1.0,-0.8M1451.3,88.2l-0.9,-0.0M1496.6,175.5l0.5,-1.4M1440.4,227.7l-1.3,-0.4M1447.4,101.9l-0.9,-0.1M1518.4,114.5l0.1,-1.3M1379.5,237.5l-0.8,-1.1M1534.7,137.8l-0.5,-1.3M1406.7,136.0l-0.5,-1.1M1416.5,162.0l0.5,-0.5M1462.9,225.0l0.8,-0.6M1520.0,104.6l-0.9,-1.2M1390.7,199.2l-0.7,-1.1M1436.9,90.6l-0.9,-0.5M1493.3,198.5l0.0,-0.4M1426.2,78.5l-0.5,-0.5M1503.5,167.1l-0.8,-0.3M1446.0,113.7l-0.7,-1.4M1428.3,120.3l0.9,-0.8M1438.4,69.2l-1.5,-0.5M1500.9,97.2l-1.1,-1.0M1414.5,115.8l0.4,-0.2M1399.3,130.0l-1.2,-0.8M1429.6,122.4l-1.5,-0.5M1415.5,269.8l0.1,-0.9M1360.1,115.1l-0.5,-1.0M1519.8,125.3l-0.8,-0.2M1374.6,179.8l-0.2,-1.1M1415.9,157.3l0.8,-0.0M1497.2,159.9l0.8,-0.6M1409.2,146.2l-0.1,-0.6M1431.5,104.4l0.8,-0.1M1394.5,169.7l-0.5,-0.2M1505.3,245.0l0.1,-1.0M1457.2,234.1l0.3,-0.6M1421.4,120.2l-1.4,-0.5M1391.2,106.6l0.6,-1.0M1511.9,133.7l-0.1,-0.7M1420.4,170.5l0.5,-1.3M1502.5,169.7l0.9,-0.4M1361.9,203.1l0.3,-0.8M1502.3,171.6l0.0,-0.4M1437.9,191.5l1.6,-0.1M1462.5,222.0l0.3,-1.3M1441.1,118.3l0.2,-1.4M1408.5,156.1l0.6,-0.8M1423.7,133.7l-0.3,-0.3M1447.5,203.5l-0.6,-0.1M1399.0,181.4l0.5,-0.6M1434.4,192.0l1.2,-0.3M1209.3,107.2l0.3,-0.2M1268.6,81.5l0.6,-0.9M1269.2,153.5l0.5,-1.0M1221.9,56.5l0.4,-0.8M1519.4,154.6l-0.4,-0.4M1546.9,162.3l0.9,-0.1M1295.9,17.7l-1.2,-0.7M1359.2,108.6l-0.1,-1.1M1452.0,76.5l0.3,-0.9M1179.7,49.4l-1.1,-0.3M1216.6,209.8l0.9,-0.9M1459.9,268.8l-0.1,-1.2M1517.6,183.4l0.0,-0.8M1285.0,249.7l-0.7,-0.1M1322.0,242.2l-0.7,-0.5M1182.1,115.6l0.3,-0.1M1341.7,234.0l0.2,-1.3M1342.4,130.6l-0.4,-0.6M1275.2,226.0l-0.1,-0.6M1519.7,295.8l0.8,-0.4M1444.1,268.3l0.8,-1.2M1187.6,243.2l0.5,-0.2M1199.0,213.5l-0.8,-0.3M1444.7,102.8l-0.2,-1.2M1285.2,275.9l-0.3,-0.4M1255.8,22.6l-0.4,-0.7M1422.6,91.9l-0.5,-0.4M1365.8,279.9l0.1,-1.5M1420.9,111.2l0.2,-1.5M1456.5,73.6l0.3,-0.1M1178.4,116.6l0.3,-0.3M1525.9,15.3l1.6,-0.2M1546.8,34.7l0.2,-0.4M1353.6,169.9l0.1,-0.9M1364.5,185.1l0.5,-0.8M1382.6,114.8l-0.2,-0.5M1198.7,141.5l0.0,-0.9M1356.3,140.8l0.7,-0.4M1228.5,16.3l-0.1,-1.2M1302.4,262.0l-0.7,-0.4M1507.4,221.0l0.7,-0.3M1337.1,87.4l-0.5,-0.1M1278.2,292.3l-0.1,-0.9M1203.9,70.8l-0.3,-1.1M1509.7,177.6l-1.3,-0.3M1233.9,138.9l-0.5,-0.3M1358.7,41.2l-0.3,-0.2M1331.7,223.0l-0.3,-0.6M1370.4,253.8l0.4,-0.8M1512.4,48.8l0.2,-1.1M1245.6,80.5l0.3,-0.2M1547.5,84.1l-0.8,-0.7M1517.3,48.3l0.2,-0.6M1293.4,197.1l0.4,-0.1M1457.3,74.2l-1.3,-0.1M1193.2,100.8l-1.3,-0.2M1265.9,128.3l-0.5,-1.3M1500.0,111.2l-1.3,-0.6M1228.4,217.8l0.1,-0.4M1389.9,129.5l-0.4,-0.6M1248.0,90.7l-1.1,-0.4M1209.9,105.7l0.7,-0.3M1418.4,271.7l-1.2,-1.0M1191.0,123.1l-0.3,-0.8M1282.1,196.8l0.5,-0.4M1508.9,183.6l0.4,-0.1M1469.3,288.3l0.7,-1.3M1559.1,159.7l0.4,-0.4M1302.1,117.0l0.6,-0.3M1363.8,39.3l1.3,-0.9M1210.6,208.8l0.0,-0.3M1379.3,151.6l0.4,-0.1M1316.5,194.9l0.7,-0.5M1465.5,242.4l0.9,-1.1M1194.2,199.9l-0.1,-1.1M1249.9,98.4l-0.5,-0.6M1527.1,104.1l0.1,-0.6M1230.1,64.7l0.5,-0.1M1403.0,239.8l0.2,-0.4M1447.7,261.6l0.4,-0.2M1254.3,204.9l-1.2,-0.9M1197.2,85.8l0.8,-0.6M1292.4,216.2l0.4,-0.5M1378.9,140.2l0.3,-0.4M1531.9,219.1l-0.3,-0.0M1553.2,72.1l0.3,-0.4M1451.0,273.6l0.4,-1.2M1428.1,143.7l0.2,-0.4M1499.8,192.6l-0.8,-0.1M1262.8,102.7l-0.1,-0.4M1261.4,177.4l-0.3,-0.6M1254.8,178.5l-0.6,-0.2M1278.1,256.7l0.6,-0.5M1344.4,126.0l0.7,-0.3M1405.7,98.6l-0.6,-0.5M1520.7,242.0l0.6,-0.1M1356.2,80.0l0.3,-0.3M1219.9,67.7l1.0,-0.3M1500.8,253.2l-0.4,-1.4M1349.7,116.2l1.1,-0.8M1326.2,205.9l-0.1,-0.7M1525.0,260.3l1.2,-0.7M1198.6,244.5l0.7,-0.9M1342.1,68.5l-1.3,-0.7M1225.2,159.7l-0.0,-0.8M1362.1,200.7l1.2,-0.8M1256.1,92.9l0.8,-0.3M1539.1,199.9l0.1,-0.3M1278.1,13.7l-0.3,-0.7M1271.9,214.5l-0.6,-1.0M1190.5,259.5l-0.3,-0.3M1513.3,38.4l0.9,-0.9M1450.3,85.3l-1.0,-0.6M1513.0,195.5l-0.6,-0.1M1174.5,269.5l-0.5,-0.4M1557.9,263.9l-1.2,-0.4M1313.0,272.7l0.7,-0.4M1550.9,47.5l-0.6,-0.6M1277.7,102.2l0.7,-0.6M1347.4,195.5l-0.8,-0.6M1252.0,199.0l-0.6,-1.3M1353.3,204.9l0.6,-1.0M1498.8,44.2l1.4,-0.2M1494.3,66.3l-0.7,-0.8M1429.4,203.3l-1.4,-0.6M1533.5,19.5l1.5,-0.2M1434.8,120.5l-0.3,-0.0M1421.7,81.2l-0.5,-0.1M1324.2,222.8l1.1,-0.0M1211.7,91.3l0.8,-0.0M1265.5,117.6l-0.7,-1.4M1231.7,150.8l1.1,-1.1M1366.1,191.3l0.7,-0.8M1302.1,155.6l0.1,-1.3" fill="none" stroke="#222" stroke-width="0.9" stroke-linecap="round" opacity="0.8"/>
</g>
<path d="M1181,15.7L1243,15.7" stroke="#222" stroke-width="1.7" fill="none"/>
<path d="M1251,15.7l-14,-2.6l3,2.6l-3,2.6z" fill="#222"/>
<text class="sans" x="1183" y="35.7" font-size="18.5" font-weight="bold" textLength="61.5" lengthAdjust="spacingAndGlyphs" fill="#111">10 V/m</text>
<text class="serif" x="1326" y="32.2" font-size="33" fill="#000" textLength="86" lengthAdjust="spacingAndGlyphs">Case 1</text>
<text class="serif" x="1100.5" y="33.4" font-size="42" font-weight="bold" fill="#000">b)</text>
<line x1="1166.0" y1="3.4" x2="1166.0" y2="305.9" stroke="#111" stroke-width="1.4"/>
<line x1="1165.3" y1="305.2" x2="1564.6" y2="305.2" stroke="#111" stroke-width="1.4"/>
<path d="M1166.0,305.2v-6.5M1186.0,305.2v-3.5M1206.1,305.2v-3.5M1226.2,305.2v-3.5M1246.3,305.2v-3.5M1266.4,305.2v-6.5M1286.5,305.2v-3.5M1306.6,305.2v-3.5M1326.7,305.2v-3.5M1346.8,305.2v-3.5M1366.8,305.2v-6.5M1386.9,305.2v-3.5M1407.0,305.2v-3.5M1427.1,305.2v-3.5M1447.2,305.2v-3.5M1467.3,305.2v-6.5M1487.4,305.2v-3.5M1507.5,305.2v-3.5M1527.6,305.2v-3.5M1547.7,305.2v-3.5M1166.0,295.1h3.5M1166.0,275.0h3.5M1166.0,254.9h7M1166.0,234.8h3.5M1166.0,214.7h3.5M1166.0,194.5h3.5M1166.0,174.4h3.5M1166.0,154.3h7M1166.0,134.2h3.5M1166.0,114.1h3.5M1166.0,93.9h3.5M1166.0,73.8h3.5M1166.0,53.7h7M1166.0,33.6h3.5M1166.0,13.5h3.5" stroke="#111" stroke-width="1.1" fill="none"/>
<text class="sans" x="1164.5" y="322.4" font-size="18" text-anchor="middle" fill="#111">-150</text>
<text class="sans" x="1264.9" y="322.4" font-size="18" text-anchor="middle" fill="#111">-100</text>
<text class="sans" x="1365.3" y="322.4" font-size="18" text-anchor="middle" fill="#111">-50</text>
<text class="sans" x="1467.3" y="322.4" font-size="18" text-anchor="middle" fill="#111">0</text>
<text class="sans" x="1160.3" y="59.7" font-size="18" text-anchor="end" fill="#111">50</text>
<text class="sans" x="1160.3" y="160.3" font-size="18" text-anchor="end" fill="#111">0</text>
<text class="sans" x="1160.3" y="260.9" font-size="18" text-anchor="end" fill="#111">-50</text>
<text class="sans" x="1393" y="332.5" font-size="18.5" font-weight="bold" textLength="48" lengthAdjust="spacingAndGlyphs" fill="#111">X [m]</text>
<text class="sans" transform="translate(1136.6 178.8) rotate(-90)" font-size="18.5" font-weight="bold" textLength="48" lengthAdjust="spacingAndGlyphs" fill="#111">Y [m]</text>
</g>
<g id="panelc">
<clipPath id="cp1"><rect x="1166.0" y="358.3" width="398.5999999999999" height="301.8"/></clipPath>
<rect x="1166.0" y="358.3" width="398.5999999999999" height="301.8" fill="#ec8e0a"/>
<g clip-path="url(#cp1)">
<g filter="url(#b20)">
<ellipse cx="1394" cy="592" rx="27" ry="23" fill="#eb8a08" opacity="0.8"/>
<ellipse cx="1402" cy="364" rx="59" ry="16" fill="#ef9a0c" opacity="0.8"/>
<ellipse cx="1242" cy="606" rx="42" ry="20" fill="#ea8808" opacity="0.8"/>
<ellipse cx="1416" cy="645" rx="36" ry="17" fill="#eb8a08" opacity="0.8"/>
<ellipse cx="1489" cy="613" rx="52" ry="18" fill="#eb8a08" opacity="0.8"/>
<ellipse cx="1196" cy="631" rx="44" ry="20" fill="#ea8808" opacity="0.8"/>
<ellipse cx="1175" cy="379" rx="40" ry="19" fill="#e98406" opacity="0.8"/>
<ellipse cx="1465" cy="590" rx="31" ry="28" fill="#eb8a08" opacity="0.8"/>
<ellipse cx="1366" cy="368" rx="27" ry="24" fill="#e98406" opacity="0.8"/>
</g>
<g filter="url(#b12)">
<polygon points="1145.9,565.5 1145.9,432.7 1346.8,424.7 1427.1,416.6 1457.3,444.8 1523.6,569.6 1467.3,609.8 1346.8,593.7" fill="#f7bc0e" opacity="0.95"/>
</g>
<g filter="url(#b8)">
<polygon points="1202.1,513.2 1202.1,485.1 1266.4,462.9 1366.8,448.8 1431.1,444.8 1499.4,567.5 1447.2,591.7 1366.8,569.6 1266.4,535.4" fill="#fbe010" opacity="0.95"/>
</g>
<g filter="url(#b5)">
<polygon points="1190.1,499.1 1334.7,485.1 1429.1,450.9 1495.4,563.5 1447.2,579.6 1334.7,517.2" fill="#fdf210"/>
</g>
<g filter="url(#b5)">
<polygon points="1354.8,505.2 1407.0,475.0 1429.1,458.9 1493.4,559.5 1447.2,571.6 1395.0,541.4" fill="#d4f83c"/>
</g>
<g filter="url(#b3)">
<ellipse cx="1445.3" cy="522.2" rx="29.5" ry="56.6" transform="rotate(-45 1445.3 522.2)" fill="#8cf080"/>
<ellipse cx="1450.8" cy="519.2" rx="29.2" ry="57.2" transform="rotate(-45 1450.8 519.2)" fill="#40e4c8"/>
<ellipse cx="1455.3" cy="516.2" rx="28.9" ry="57.8" transform="rotate(-45 1455.3 516.2)" fill="#18b8f4"/>
<ellipse cx="1460.3" cy="513.2" rx="28.3" ry="58.1" transform="rotate(-45 1460.3 513.2)" fill="#0860f0"/>
<ellipse cx="1479.3" cy="505.2" rx="28.3" ry="56.6" transform="rotate(-45 1479.3 505.2)" fill="#ec7010"/>
<ellipse cx="1474.3" cy="506.8" rx="28.3" ry="57.8" transform="rotate(-45 1474.3 506.8)" fill="#e02808"/>
</g>
<g filter="url(#b1)">
<ellipse cx="1463.9" cy="511.1" rx="28.3" ry="58.3" transform="rotate(-45 1463.9 511.1)" fill="#0818c8"/>
<ellipse cx="1470.3" cy="508.2" rx="28.3" ry="58.3" transform="rotate(-45 1470.3 508.2)" fill="#d80808"/>
</g>
<ellipse cx="1467.3" cy="509.2" rx="28.3" ry="58.3" transform="rotate(-45 1467.3 509.2)" fill="#fff"/>
<path d="M1485.3,487.1L1494.2,478.5M1494.2,478.5l-1.1,1.9M1494.2,478.5l-1.9,1.0M1484.0,486.0L1491.7,478.6M1491.7,478.6l-1.1,1.9M1491.7,478.6l-1.9,1.0M1480.3,482.7L1489.2,475.5M1489.2,475.5l-1.3,1.8M1489.2,475.5l-2.0,0.8M1478.6,481.2L1482.5,474.7M1482.5,474.7l-0.6,2.1M1482.5,474.7l-1.6,1.5M1476.0,479.2L1485.0,467.2M1485.0,467.2l-0.8,2.1M1485.0,467.2l-1.8,1.3M1475.0,478.4L1481.8,468.0M1481.8,468.0l-0.6,2.1M1481.8,468.0l-1.7,1.4M1471.2,475.7L1478.6,467.3M1478.6,467.3l-0.9,2.0M1478.6,467.3l-1.9,1.2M1468.5,473.9L1472.7,466.0M1472.7,466.0l-0.4,2.2M1472.7,466.0l-1.5,1.6M1466.2,472.5L1472.9,462.7M1472.9,462.7l-0.7,2.1M1472.9,462.7l-1.7,1.4M1465.1,471.9L1470.9,464.1M1470.9,464.1l-0.8,2.1M1470.9,464.1l-1.8,1.3M1461.3,469.7L1463.6,463.0M1463.6,463.0l-0.1,2.2M1463.6,463.0l-1.3,1.8M1459.5,468.9L1463.5,459.8M1463.5,459.8l-0.3,2.2M1463.5,459.8l-1.4,1.7M1456.4,467.5L1459.6,455.6M1459.6,455.6l0.0,2.2M1459.6,455.6l-1.1,1.9M1455.0,466.9L1458.6,460.6M1458.6,460.6l-0.5,2.1M1458.6,460.6l-1.6,1.5M1451.1,465.5L1453.4,453.7M1453.4,453.7l0.2,2.2M1453.4,453.7l-1.0,2.0M1449.6,465.0L1451.9,453.8M1451.9,453.8l0.2,2.2M1451.9,453.8l-1.0,1.9M1446.9,464.3L1451.7,450.3M1451.7,450.3l-0.1,2.2M1451.7,450.3l-1.3,1.8M1445.4,464.0L1446.8,452.4M1446.8,452.4l0.3,2.2M1446.8,452.4l-0.9,2.0M1442.0,463.5L1441.2,454.9M1441.2,454.9l0.8,2.1M1441.2,454.9l-0.4,2.2M1436.2,463.5L1443.1,472.7M1443.1,472.7l-2.6,-1.9M1443.1,472.7l-1.1,-3.0M1429.3,438.5l0.5,3.0M1434.2,463.8L1440.3,471.2M1440.3,471.2l-2.6,-1.8M1440.3,471.2l-1.3,-2.9M1431.3,452.8L1432.4,458.2M1432.4,458.2l-0.7,-1.4M1432.4,458.2l0.1,-1.6M1432.4,464.2L1443.4,476.5M1443.4,476.5l-2.7,-1.7M1443.4,476.5l-1.4,-2.9M1430.3,465.0L1440.3,480.4M1440.3,480.4l-2.4,-2.1M1440.3,480.4l-0.9,-3.1M1429.0,462.9L1431.9,469.4M1431.9,469.4l-1.0,-1.2M1431.9,469.4l-0.2,-1.6M1418.0,440.7l1.4,3.0M1426.3,463.7L1429.9,470.3M1429.9,470.3l-1.1,-1.1M1429.9,470.3l-0.3,-1.6M1424.1,455.1L1427.0,460.4M1427.0,460.4l-1.1,-1.1M1427.0,460.4l-0.3,-1.6M1427.9,466.4L1440.6,480.4M1440.6,480.4l-2.7,-1.7M1440.6,480.4l-1.4,-2.9M1423.9,461.8L1427.9,467.5M1427.9,467.5l-1.2,-1.0M1427.9,467.5l-0.5,-1.5M1417.7,456.4l2.6,3.3M1426.2,467.8L1436.9,474.8M1436.9,474.8l-3.1,-0.9M1436.9,474.8l-2.1,-2.4M1422.1,463.6L1425.8,467.0M1425.8,467.0l-1.4,-0.7M1425.8,467.0l-0.9,-1.4M1403.4,450.6l3.2,2.8M1424.7,469.4L1437.6,475.7M1437.6,475.7l-3.2,-0.6M1437.6,475.7l-2.4,-2.2M1408.7,459.5l3.2,2.4M1409.7,461.7l2.5,1.6M1424.0,470.5L1435.7,477.2M1435.7,477.2l-3.1,-0.8M1435.7,477.2l-2.2,-2.3M1400.2,457.8l3.2,2.0M1417.5,470.1L1424.4,473.5M1424.4,473.5l-1.6,-0.3M1424.4,473.5l-1.2,-1.1M1422.9,472.7L1438.0,478.6M1438.0,478.6l-3.2,-0.3M1438.0,478.6l-2.5,-2.0M1410.3,467.3L1416.2,469.7M1416.2,469.7l-1.6,-0.2M1416.2,469.7l-1.3,-1.0M1422.2,474.9L1433.6,476.8M1433.6,476.8l-3.2,0.4M1433.6,476.8l-2.9,-1.4M1403.5,471.5l3.0,0.8M1401.4,471.8l2.7,0.6M1421.8,476.8L1437.9,476.4M1437.9,476.4l-3.1,1.0M1437.9,476.4l-3.1,-0.8M1401.1,473.5l4.0,0.7M1408.7,478.7l3.2,0.4M1402.3,476.2L1407.9,476.8M1407.9,476.8l-1.6,0.3M1407.9,476.8l-1.5,-0.6M1421.4,480.4L1440.0,479.8M1440.0,479.8l-3.0,1.0M1440.0,479.8l-3.1,-0.8M1408.9,481.6l4.4,0.1M1411.0,481.4l3.7,0.0M1421.5,482.4L1442.8,481.8M1442.8,481.8l-3.0,1.0M1442.8,481.8l-3.1,-0.8M1411.4,483.2l3.8,-0.2M1408.2,484.4l4.4,-0.2M1402.6,486.0l2.5,-0.3M1421.7,484.9L1439.0,485.6M1439.0,485.6l-3.1,0.8M1439.0,485.6l-3.0,-1.0M1414.4,485.6L1422.6,484.5M1422.6,484.5l-1.5,0.6M1422.6,484.5l-1.6,-0.2M1401.5,489.2l3.8,-0.7M1422.4,489.0L1436.0,487.6M1436.0,487.6l-3.0,1.2M1436.0,487.6l-3.1,-0.6M1411.3,492.7l4.3,-1.0M1414.8,491.8L1420.3,490.5M1420.3,490.5l-1.4,0.8M1420.3,490.5l-1.6,-0.1M1406.9,491.8L1411.4,490.7M1411.4,490.7l-1.4,0.8M1411.4,490.7l-1.6,-0.1M1423.3,492.1L1438.6,485.3M1438.6,485.3l-2.4,2.1M1438.6,485.3l-3.2,0.4M1418.9,493.1L1425.6,491.1M1425.6,491.1l-1.3,0.9M1425.6,491.1l-1.6,0.0M1414.3,496.5L1419.9,494.6M1419.9,494.6l-1.3,0.9M1419.9,494.6l-1.6,0.1M1424.1,494.5L1436.1,488.1M1436.1,488.1l-2.3,2.2M1436.1,488.1l-3.1,0.7M1418.4,498.4L1422.9,496.7M1422.9,496.7l-1.3,1.0M1422.9,496.7l-1.6,0.1M1406.6,501.9l3.9,-1.4M1425.3,497.8L1440.1,495.0M1440.1,495.0l-2.9,1.4M1440.1,495.0l-3.2,-0.3M1406.5,505.4l2.7,-1.2M1426.5,500.4L1448.7,495.8M1448.7,495.8l-2.8,1.5M1448.7,495.8l-3.2,-0.3M1420.6,505.3l3.3,-1.6M1412.0,508.2L1417.1,505.9M1417.1,505.9l-1.2,1.1M1417.1,505.9l-1.6,0.2M1428.1,503.7L1447.4,500.4M1447.4,500.4l-2.9,1.4M1447.4,500.4l-3.2,-0.4M1409.5,513.4l3.5,-1.8M1430.1,507.3L1448.1,495.3M1448.1,495.3l-2.1,2.4M1448.1,495.3l-3.1,1.0M1413.6,514.1l2.7,-1.6M1432.6,511.4L1443.6,507.2M1443.6,507.2l-2.6,1.9M1443.6,507.2l-3.2,0.3M1424.0,516.4L1430.1,512.4M1430.1,512.4l-1.0,1.2M1430.1,512.4l-1.5,0.5M1428.2,515.0L1434.7,510.5M1434.7,510.5l-1.0,1.2M1434.7,510.5l-1.5,0.5M1422.4,522.1L1427.8,518.4M1427.8,518.4l-1.0,1.2M1427.8,518.4l-1.5,0.5M1435.5,515.6L1448.8,509.9M1448.8,509.9l-2.5,2.0M1448.8,509.9l-3.2,0.4M1433.1,517.5L1436.9,514.6M1436.9,514.6l-1.0,1.3M1436.9,514.6l-1.5,0.5M1420.0,523.7l2.2,-1.6M1438.0,518.7L1455.2,512.1M1455.2,512.1l-2.6,1.9M1455.2,512.1l-3.2,0.3M1419.1,533.8l3.0,-2.4M1440.1,521.4L1451.5,516.0M1451.5,516.0l-2.4,2.1M1451.5,516.0l-3.2,0.5M1435.7,525.7l2.7,-2.2M1440.0,523.8L1446.5,518.3M1446.5,518.3l-0.9,1.3M1446.5,518.3l-1.5,0.7M1442.6,524.3L1452.2,516.1M1452.2,516.1l-1.8,2.7M1452.2,516.1l-2.9,1.3M1436.1,528.4L1440.1,524.9M1440.1,524.9l-0.9,1.4M1440.1,524.9l-1.4,0.7M1427.6,538.7L1431.1,535.6M1431.1,535.6l-0.9,1.4M1431.1,535.6l-1.4,0.7M1436.8,532.2l2.5,-2.3M1445.5,527.5L1457.8,516.0M1457.8,516.0l-1.6,2.8M1457.8,516.0l-2.9,1.5M1448.4,530.4L1462.5,520.3M1462.5,520.3l-2.0,2.5M1462.5,520.3l-3.0,1.1M1448.1,535.3L1454.5,528.5M1454.5,528.5l-0.7,1.4M1454.5,528.5l-1.4,0.8M1451.5,533.2L1471.4,521.7M1471.4,521.7l-2.2,2.3M1471.4,521.7l-3.1,0.8M1456.1,537.2L1468.0,526.0M1468.0,526.0l-1.6,2.8M1468.0,526.0l-2.9,1.5M1453.0,540.2L1458.5,533.5M1458.5,533.5l-0.6,1.5M1458.5,533.5l-1.3,0.9M1439.2,556.7l2.6,-3.2M1453.4,544.6L1458.0,538.8M1458.0,538.8l-0.6,1.5M1458.0,538.8l-1.3,0.9M1448.4,551.5L1451.6,547.5M1451.6,547.5l-0.6,1.5M1451.6,547.5l-1.3,0.9M1458.8,539.3L1474.0,531.3M1474.0,531.3l-2.3,2.2M1474.0,531.3l-3.1,0.7M1454.4,548.4L1458.0,543.8M1458.0,543.8l-0.6,1.5M1458.0,543.8l-1.3,0.9M1462.6,542.1L1472.3,530.2M1472.3,530.2l-1.3,2.9M1472.3,530.2l-2.6,1.8M1459.4,548.4L1463.4,542.6M1463.4,542.6l-0.5,1.5M1463.4,542.6l-1.2,1.0M1465.2,543.9L1481.7,533.9M1481.7,533.9l-2.2,2.4M1481.7,533.9l-3.1,0.8M1460.8,549.8L1465.1,543.3M1465.1,543.3l-0.5,1.5M1465.1,543.3l-1.2,1.0M1452.8,562.2l1.3,-2.0M1468.2,545.8L1475.6,540.2M1475.6,540.2l-1.9,2.5M1475.6,540.2l-3.0,1.1M1459.4,558.4l1.6,-2.6M1472.9,548.4L1481.5,533.9M1481.5,533.9l-0.8,3.1M1481.5,533.9l-2.3,2.2M1466.4,562.6L1468.7,558.1M1468.7,558.1l-0.3,1.6M1468.7,558.1l-1.1,1.2M1476.0,550.0L1485.3,535.7M1485.3,535.7l-0.9,3.1M1485.3,535.7l-2.4,2.1M1474.6,557.2L1476.9,552.1M1476.9,552.1l-0.2,1.6M1476.9,552.1l-1.0,1.2M1466.7,566.9L1469.0,561.8M1469.0,561.8l-0.2,1.6M1469.0,561.8l-1.0,1.2M1479.2,551.4L1487.5,542.4M1487.5,542.4l-1.4,2.9M1487.5,542.4l-2.7,1.6M1475.9,555.6L1479.2,547.4M1479.2,547.4l-0.2,1.6M1479.2,547.4l-1.0,1.3M1475.3,567.5L1477.5,561.9M1477.5,561.9l-0.2,1.6M1477.5,561.9l-1.0,1.3M1474.1,565.8L1476.1,560.5M1476.1,560.5l-0.1,1.6M1476.1,560.5l-1.0,1.3M1482.4,552.6L1487.8,540.5M1487.8,540.5l-0.5,3.2M1487.8,540.5l-2.1,2.4M1477.7,568.5l1.3,-3.9M1485.4,553.5L1494.2,540.7M1494.2,540.7l-1.0,3.0M1494.2,540.7l-2.5,2.0M1486.6,563.5L1488.5,555.7M1488.5,555.7l0.1,1.6M1488.5,555.7l-0.8,1.4M1487.5,554.0L1492.5,545.6M1492.5,545.6l-0.8,3.1M1492.5,545.6l-2.3,2.2M1480.6,580.3l0.5,-2.3M1489.2,561.1L1490.5,554.2M1490.5,554.2l0.2,1.6M1490.5,554.2l-0.7,1.4M1485.4,577.9l0.6,-3.2M1491.5,554.8L1495.0,542.7M1495.0,542.7l-0.0,3.2M1495.0,542.7l-1.7,2.7M1490.5,563.6L1491.2,558.9M1491.2,558.9l0.2,1.6M1491.2,558.9l-0.6,1.5M1492.9,559.4L1493.6,552.7M1493.6,552.7l0.3,1.6M1493.6,552.7l-0.6,1.5M1489.4,577.0l0.4,-3.5M1499.5,554.8L1502.2,563.2M1502.2,563.2l-1.2,-1.8M1502.2,563.2l-0.1,-2.2M1500.2,554.7L1502.2,561.5M1502.2,561.5l-1.2,-1.9M1502.2,561.5l-0.0,-2.2M1502.6,554.1L1505.3,564.8M1505.3,564.8l-1.1,-1.9M1505.3,564.8l0.1,-2.2M1503.2,553.8L1508.8,564.9M1508.8,564.9l-1.5,-1.6M1508.8,564.9l-0.4,-2.2M1505.5,552.8L1511.0,560.9M1511.0,560.9l-1.7,-1.4M1511.0,560.9l-0.7,-2.1M1506.6,552.1L1513.7,562.4M1513.7,562.4l-1.7,-1.4M1513.7,562.4l-0.7,-2.1M1508.1,550.9L1517.8,560.8M1517.8,560.8l-1.9,-1.1M1517.8,560.8l-1.0,-1.9M1509.2,549.8L1522.1,557.2M1522.1,557.2l-2.1,-0.5M1522.1,557.2l-1.5,-1.6M1510.4,548.1L1517.5,552.9M1517.5,552.9l-2.1,-0.7M1517.5,552.9l-1.4,-1.7M1510.6,547.9L1517.9,554.1M1517.9,554.1l-2.0,-0.9M1517.9,554.1l-1.2,-1.8M1511.9,545.1L1521.1,549.9M1521.1,549.9l-2.2,-0.4M1521.1,549.9l-1.6,-1.5M1512.1,544.7L1519.0,546.5M1519.0,546.5l-2.2,0.1M1519.0,546.5l-1.9,-1.1M1512.8,541.7L1520.9,542.5M1520.9,542.5l-2.2,0.4M1520.9,542.5l-2.0,-0.8M1512.9,541.0L1522.1,542.7M1522.1,542.7l-2.2,0.2M1522.1,542.7l-2.0,-1.0M1513.2,538.0L1527.6,535.7M1527.6,535.7l-2.0,0.9M1527.6,535.7l-2.2,-0.3M1513.2,537.9L1522.9,537.4M1522.9,537.4l-2.1,0.7M1522.9,537.4l-2.1,-0.5M1513.1,535.0L1525.3,534.4M1525.3,534.4l-2.1,0.7M1525.3,534.4l-2.1,-0.5M1512.8,533.1L1521.1,530.6M1521.1,530.6l-1.8,1.2M1521.1,530.6l-2.2,0.0M1512.4,530.5L1521.2,528.7M1521.2,528.7l-2.0,1.0M1521.2,528.7l-2.2,-0.2M1511.9,528.3L1520.5,525.8M1520.5,525.8l-1.9,1.2M1520.5,525.8l-2.2,0.0M1511.2,526.0L1524.9,522.2M1524.9,522.2l-1.9,1.2M1524.9,522.2l-2.2,-0.0M1510.6,524.0L1524.2,521.2M1524.2,521.2l-1.9,1.0M1524.2,521.2l-2.2,-0.2M1508.9,519.8L1517.5,516.4M1517.5,516.4l-1.7,1.3M1517.5,516.4l-2.2,0.2M1508.3,518.5L1518.0,514.1M1518.0,514.1l-1.7,1.4M1518.0,514.1l-2.2,0.3M1506.6,515.0L1514.9,512.0M1514.9,512.0l-1.8,1.3M1514.9,512.0l-2.2,0.2M1506.3,514.3L1518.4,510.3M1518.4,510.3l-1.8,1.2M1518.4,510.3l-2.2,0.1M1503.6,509.6L1514.7,502.8M1514.7,502.8l-1.5,1.6M1514.7,502.8l-2.1,0.6M1502.7,508.2L1515.1,502.4M1515.1,502.4l-1.7,1.4M1515.1,502.4l-2.2,0.3M1501.2,505.9L1512.1,498.4M1512.1,498.4l-1.4,1.7M1512.1,498.4l-2.1,0.7M1499.7,503.8L1506.3,497.6M1506.3,497.6l-1.1,1.9M1506.3,497.6l-2.0,1.0M1497.8,501.2L1508.2,490.9M1508.2,490.9l-1.1,1.9M1508.2,490.9l-1.9,1.1M1495.8,498.6L1503.9,494.4M1503.9,494.4l-1.6,1.5M1503.9,494.4l-2.2,0.4M1492.7,494.9L1501.2,485.1M1501.2,485.1l-0.9,2.0M1501.2,485.1l-1.8,1.2M1492.3,494.4L1498.1,487.7M1498.1,487.7l-0.9,2.0M1498.1,487.7l-1.9,1.2M1488.7,490.6L1495.3,483.5M1495.3,483.5l-1.0,2.0M1495.3,483.5l-1.9,1.1M1431.1,469.0L1393.0,481.0M1393.0,481.0l5.8,-3.9M1393.0,481.0l7.0,-0.2M1443.2,515.2L1467.3,537.4M1467.3,537.4l-6.3,-3.1M1467.3,537.4l-3.6,-6.0M1483.4,549.4L1495.4,523.3M1495.4,523.3l-1.0,6.9M1495.4,523.3l-4.6,5.3" fill="none" stroke="#111" stroke-width="0.65" stroke-linecap="round"/>
<path d="M1409.0,570.9l0.8,-0.2M1503.2,410.8l-1.2,-0.1M1411.2,496.9l0.8,-0.6M1369.9,463.6l1.3,-0.1M1416.4,476.4l-0.5,-0.1M1434.1,588.9l0.3,-1.0M1422.8,396.3l-1.1,-0.2M1522.9,440.4l0.7,-1.4M1403.6,488.7l-0.6,-1.4M1409.2,503.1l-1.0,-0.4M1421.1,462.7l-1.0,-0.8M1505.6,566.7l-1.5,-0.4M1480.3,480.2l0.5,-1.3M1502.8,464.5l-0.3,-0.2M1450.0,457.0l0.1,-1.5M1383.4,507.3l-0.4,-1.5M1474.5,428.4l0.3,-1.0M1392.6,520.4l-0.9,-0.4M1406.1,522.0l1.1,-1.0M1459.1,545.4l0.3,-0.2M1420.6,534.5l-0.5,-0.7M1531.0,518.7l-1.2,-0.6M1401.7,499.0l0.5,-0.4M1379.7,415.2l0.2,-0.9M1387.2,528.4l-1.4,-0.6M1355.2,490.9l0.2,-0.4M1554.6,569.5l0.2,-0.5M1543.0,448.0l0.3,-0.7M1464.2,559.6l0.3,-0.3M1434.1,545.5l0.0,-0.7M1430.5,452.1l0.6,-0.0M1423.9,569.3l-0.2,-0.6M1403.0,543.1l0.8,-1.3M1489.4,477.4l1.1,-0.3M1403.3,547.5l-1.3,-0.7M1412.6,506.6l-0.2,-1.0M1367.2,469.3l1.0,-0.4M1470.5,452.3l-0.8,-1.1M1416.4,583.6l-0.4,-1.1M1342.1,507.9l0.5,-0.9M1484.7,583.2l-0.1,-1.1M1471.6,449.0l-1.1,-0.6M1412.1,460.5l0.4,-1.4M1433.1,539.0l-0.1,-0.4M1408.8,531.5l-0.0,-0.4M1395.5,541.9l-0.8,-0.2M1549.9,473.1l0.2,-0.8M1397.4,492.0l1.2,-0.4M1518.6,510.7l1.1,-0.1M1446.4,454.3l-1.1,-0.7M1470.8,461.5l-0.5,-1.1M1429.1,533.4l0.4,-1.5M1408.7,482.8l-0.6,-1.1M1391.9,493.0l-0.4,-0.4M1474.4,452.6l0.8,-0.4M1455.5,539.5l-0.8,-0.5M1369.7,529.4l1.0,-0.1M1509.1,515.8l-0.3,-0.4M1410.8,514.2l0.3,-0.1M1419.1,537.6l-0.2,-0.8M1415.0,494.5l0.3,-0.5M1446.0,561.1l0.1,-0.6M1439.2,363.6l0.4,-0.8M1416.8,480.0l0.2,-0.6M1401.6,477.6l0.5,-0.2M1509.9,486.9l1.4,-0.4M1437.4,462.0l1.0,-0.6M1462.6,460.2l1.4,-0.1M1357.4,535.8l-0.9,-0.7M1416.8,501.7l1.3,-0.4M1356.8,494.8l0.2,-0.7M1541.5,587.1l-0.5,-0.7M1483.2,580.6l0.4,-1.5M1408.5,504.9l-1.4,-0.1M1418.7,491.6l1.3,-0.3M1394.2,506.0l0.7,-1.3M1467.0,567.1l-0.4,-0.2M1453.8,567.6l-0.8,-0.2M1411.2,550.7l-0.6,-0.8M1483.7,468.6l-0.8,-0.1M1411.2,527.5l0.3,-1.1M1426.0,442.0l0.9,-0.1M1372.9,470.4l-0.8,-0.0M1467.4,569.2l0.2,-0.8M1469.0,445.5l-0.5,-0.2M1406.0,441.9l-0.1,-0.4M1463.3,455.3l-0.8,-1.1M1442.9,457.8l-0.7,-1.0M1487.0,469.6l-0.2,-0.6M1463.0,554.1l0.3,-0.1M1428.3,560.7l-1.4,-0.1M1523.4,474.0l-0.2,-0.5M1405.7,576.9l-1.5,-0.4M1418.9,503.6l1.3,-0.6M1409.0,490.7l-0.1,-0.9M1479.0,475.6l-0.2,-0.3M1472.6,569.4l0.6,-1.2M1357.5,547.5l-0.5,-0.2M1420.5,598.3l-0.4,-0.7M1532.4,520.7l0.9,-0.9M1421.9,543.0l1.1,-0.4M1429.7,537.4l0.0,-1.0M1420.3,477.4l-1.2,-1.0M1449.0,558.7l1.5,-0.2M1403.6,483.1l0.2,-0.3M1428.7,559.8l0.1,-0.7M1434.8,462.1l-0.5,-0.6M1420.0,529.8l0.5,-1.1M1413.1,506.4l-0.3,-0.5M1436.0,446.2l-0.7,-0.6M1481.3,462.9l-1.2,-1.0M1461.2,552.9l0.1,-0.7M1514.4,509.7l-1.0,-0.3M1397.0,467.9l0.3,-1.3M1407.6,539.7l1.1,-0.7M1429.1,539.8l0.8,-1.4M1477.6,558.2l0.2,-0.7M1388.5,500.0l0.7,-0.7M1547.8,524.2l1.4,-0.0M1452.1,450.7l1.1,-0.7M1380.9,450.5l0.9,-1.3M1416.2,411.1l0.2,-0.8M1411.7,481.8l-0.5,-0.4M1443.1,545.2l0.8,-0.9M1461.6,563.4l-1.2,-0.1M1466.4,470.8l1.2,-0.4M1500.0,498.3l-0.4,-0.6M1475.6,459.3l-0.2,-1.5M1455.4,462.3l-0.3,-1.6M1358.5,528.2l-0.2,-0.3M1477.8,478.8l0.4,-1.5M1421.9,541.1l-1.0,-0.6M1434.9,554.4l0.6,-0.5M1506.6,491.4l0.4,-0.1M1398.1,528.5l0.2,-1.1M1463.5,445.2l0.9,-0.0M1528.9,491.7l0.2,-0.7M1415.9,470.4l-0.2,-1.2M1398.4,501.4l-0.7,-0.6M1428.1,584.4l0.6,-0.3M1365.7,579.8l0.6,-0.8M1441.3,540.8l0.7,-0.1M1423.4,461.3l-0.9,-0.4M1504.2,500.1l1.3,-0.7M1523.9,502.6l0.6,-1.2M1418.1,466.0l-1.2,-0.5M1475.7,557.4l0.4,-0.5M1414.9,532.7l-0.9,-0.2M1412.3,522.4l-0.9,-0.5M1402.7,534.6l0.7,-0.6M1379.9,414.0l0.9,-1.3M1429.2,538.2l-0.2,-0.6M1387.0,585.0l-0.2,-1.1M1531.8,480.3l1.1,-0.1M1484.0,463.2l-1.0,-0.1M1387.9,456.7l-0.5,-0.6M1547.9,480.1l-0.8,-0.9M1515.5,521.2l-0.1,-1.5M1376.6,486.8l0.1,-0.4M1497.0,482.6l0.4,-0.8M1428.0,533.8l-1.1,-0.5M1492.8,469.1l1.1,-0.7M1423.9,529.8l-0.5,-0.1M1380.2,538.2l-0.4,-0.2M1530.3,544.6l-0.4,-0.5M1388.9,567.8l1.1,-0.4M1492.6,486.1l0.3,-0.2M1453.2,606.7l-0.7,-0.8M1431.3,432.8l0.4,-0.5M1400.2,489.4l0.5,-0.5M1514.2,495.0l1.6,-0.2M1365.2,518.0l-0.7,-0.2M1468.1,560.1l1.3,-0.5M1406.9,541.8l0.7,-0.2M1380.5,485.8l-0.1,-0.3M1485.4,556.5l1.0,-0.3M1376.5,563.0l0.4,-0.0M1400.0,552.4l-0.1,-0.4M1473.4,473.4l-0.8,-1.3M1433.3,534.0l-0.1,-0.7M1448.2,569.2l0.8,-1.0M1432.9,553.9l-0.7,-0.6M1520.2,510.8l1.3,-0.8M1450.6,543.9l-1.0,-0.4M1407.4,489.5l0.6,-1.2M1489.4,466.7l1.5,-0.3M1452.3,577.1l0.2,-0.6M1383.5,538.0l0.7,-0.3M1412.0,556.5l-1.0,-0.1M1454.0,462.8l0.8,-0.9M1420.3,481.5l0.0,-0.4M1411.6,482.9l1.2,-0.6M1393.9,539.6l0.3,-0.2M1374.0,435.2l0.9,-0.4M1515.9,528.2l0.1,-0.5M1417.1,507.8l0.0,-0.3M1499.3,583.1l0.3,-0.5M1529.8,486.3l1.1,-0.4M1372.1,486.9l-0.3,-1.2M1540.0,421.4l-0.1,-0.8M1284.9,639.1l-0.0,-0.5M1173.3,628.1l-0.2,-0.9M1527.6,521.9l-0.3,-0.2M1296.7,443.1l0.7,-0.6M1470.2,636.0l-0.3,-0.3M1398.3,653.4l0.5,-1.2M1219.2,475.5l-0.6,-0.1M1297.3,556.3l0.1,-0.4M1185.9,393.8l0.4,-0.5M1278.9,515.2l0.0,-1.0M1332.1,455.9l0.3,-0.6M1279.3,429.9l0.2,-0.5M1398.1,477.0l0.6,-0.3M1509.0,613.7l1.4,-0.2M1499.7,433.4l-0.7,-1.0M1406.5,639.0l-0.3,-0.6M1338.5,618.9l0.0,-0.6M1324.1,537.7l1.3,-0.7M1228.9,445.2l0.2,-0.7M1378.6,630.3l0.8,-0.8M1216.9,473.5l0.7,-0.1M1299.2,432.6l-0.2,-0.3M1385.5,423.2l-1.4,-0.2M1420.0,605.1l-0.9,-1.0M1493.8,442.9l-0.5,-0.2M1499.2,462.1l-1.1,-0.6M1271.8,487.0l-0.3,-1.4M1361.0,386.9l-1.0,-1.1M1174.7,565.3l-0.8,-1.1M1439.6,536.5l-0.4,-0.8M1374.1,597.8l0.1,-0.5M1530.4,494.3l1.2,-0.6M1262.1,429.8l0.3,-0.5M1435.2,644.0l-0.0,-0.3M1226.5,449.5l-1.0,-1.1M1291.0,624.0l-0.1,-0.9M1208.1,622.1l0.5,-0.8M1215.5,518.9l-0.2,-0.5M1517.3,388.3l-1.0,-0.1M1422.0,565.0l0.1,-0.4M1364.8,533.3l0.4,-0.6M1419.5,416.3l-0.7,-0.7M1186.5,609.0l0.3,-1.0M1445.0,404.1l-0.4,-0.9M1513.1,611.1l-0.7,-0.9M1202.7,590.3l0.2,-1.3M1417.8,615.1l0.9,-0.8M1341.1,645.0l-0.6,-0.7M1324.3,563.8l1.3,-0.2M1358.9,574.5l0.9,-0.1M1365.3,497.7l0.5,-0.4M1343.4,497.2l-0.2,-0.7M1298.5,547.8l0.3,-0.2M1410.6,568.4l-0.9,-1.3M1537.1,455.8l1.4,-0.5M1391.3,384.9l0.4,-1.4M1503.8,602.8l0.1,-0.8M1266.7,599.5l0.5,-1.2M1315.9,404.2l-0.1,-1.1M1511.9,462.3l-0.3,-0.2M1348.7,625.3l-0.4,-0.6M1420.7,546.1l-0.2,-0.5M1546.0,634.3l-0.6,-0.7M1529.6,456.2l-0.3,-0.4M1330.9,496.5l-0.8,-0.6M1391.8,373.2l-0.6,-0.1M1500.8,399.2l0.2,-0.5M1213.5,583.1l0.3,-1.4M1381.4,462.2l-0.9,-0.2M1251.6,473.3l0.5,-1.4M1228.0,474.7l-0.9,-0.2M1197.3,456.7l0.5,-1.0M1295.5,601.7l-0.3,-1.0M1345.4,536.6l0.2,-0.6M1274.7,381.1l-0.4,-0.2M1217.5,529.6l0.6,-0.4M1225.3,402.6l-0.9,-0.2M1317.7,415.1l-1.1,-0.2M1198.3,582.4l0.1,-1.2M1259.5,598.8l-0.7,-0.2M1187.6,421.5l-0.2,-1.1M1534.6,390.0l-0.3,-0.6M1459.5,370.1l-1.2,-0.4M1446.6,413.5l0.9,-1.1M1236.4,390.5l0.0,-0.8M1385.6,553.1l-0.2,-1.2M1236.5,467.1l1.1,-0.7M1259.7,506.6l-0.4,-1.1M1430.2,574.7l-1.3,-0.1M1222.6,579.1l0.4,-0.7M1408.3,455.8l-0.6,-0.3M1439.3,565.9l1.5,-0.1M1267.6,598.5l-0.7,-0.1M1308.2,568.0l-0.6,-0.4M1278.7,377.3l-0.6,-0.6M1184.8,429.3l0.5,-0.8M1386.3,431.8l0.9,-0.9M1457.5,556.9l0.3,-1.3M1311.6,526.0l-0.5,-1.3M1180.2,505.3l-0.8,-1.3M1256.0,614.0l-0.7,-0.1M1182.5,569.2l-0.2,-0.6M1267.7,586.1l-0.6,-0.3M1202.2,436.8l-0.9,-0.1M1272.2,402.1l-0.6,-0.7M1447.3,594.8l-0.5,-0.2M1218.4,410.7l0.0,-0.5M1283.6,590.4l-0.5,-0.2M1407.2,524.7l0.0,-1.4M1290.5,614.1l-1.2,-0.2M1534.3,409.9l0.0,-0.6M1194.1,435.3l-0.0,-1.6M1414.6,403.0l0.4,-0.2M1527.6,537.9l0.0,-0.8M1390.3,476.0l0.0,-0.8M1495.0,615.7l0.0,-0.4M1217.1,587.2l-1.1,-0.0M1333.5,524.2l-0.3,-0.5M1344.6,553.1l0.2,-0.7M1341.6,429.6l1.1,-0.0M1497.7,405.5l-0.7,-0.7M1216.7,536.9l1.2,-0.8M1176.3,622.7l-0.8,-1.0M1458.2,643.9l0.3,-1.2M1461.1,589.5l-0.4,-0.5M1442.7,385.0l1.1,-0.6M1524.4,390.9l0.5,-0.5M1224.8,367.8l-0.7,-0.7M1297.2,634.6l1.2,-0.1M1503.0,649.3l-0.2,-1.3M1231.6,391.2l0.5,-0.2M1527.8,421.9l-0.0,-1.2M1215.1,605.1l1.2,-0.2" fill="none" stroke="#222" stroke-width="0.9" stroke-linecap="round" opacity="0.8"/>
</g>
<path d="M1181,370.6L1243,370.6" stroke="#222" stroke-width="1.7" fill="none"/>
<path d="M1251,370.6l-14,-2.6l3,2.6l-3,2.6z" fill="#222"/>
<text class="sans" x="1183" y="390.6" font-size="18.5" font-weight="bold" textLength="61.5" lengthAdjust="spacingAndGlyphs" fill="#111">10 V/m</text>
<text class="serif" x="1326" y="387.1" font-size="33" fill="#000" textLength="86" lengthAdjust="spacingAndGlyphs">Case 2</text>
<text class="serif" x="1100.5" y="388.3" font-size="42" font-weight="bold" fill="#000">c)</text>
<line x1="1166.0" y1="358.3" x2="1166.0" y2="660.8000000000001" stroke="#111" stroke-width="1.4"/>
<line x1="1165.3" y1="660.1" x2="1564.6" y2="660.1" stroke="#111" stroke-width="1.4"/>
<path d="M1166.0,660.1v-6.5M1186.0,660.1v-3.5M1206.1,660.1v-3.5M1226.2,660.1v-3.5M1246.3,660.1v-3.5M1266.4,660.1v-6.5M1286.5,660.1v-3.5M1306.6,660.1v-3.5M1326.7,660.1v-3.5M1346.8,660.1v-3.5M1366.8,660.1v-6.5M1386.9,660.1v-3.5M1407.0,660.1v-3.5M1427.1,660.1v-3.5M1447.2,660.1v-3.5M1467.3,660.1v-6.5M1487.4,660.1v-3.5M1507.5,660.1v-3.5M1527.6,660.1v-3.5M1547.7,660.1v-3.5M1166.0,650.0h3.5M1166.0,629.9h3.5M1166.0,609.8h7M1166.0,589.7h3.5M1166.0,569.6h3.5M1166.0,549.4h3.5M1166.0,529.3h3.5M1166.0,509.2h7M1166.0,489.1h3.5M1166.0,469.0h3.5M1166.0,448.8h3.5M1166.0,428.7h3.5M1166.0,408.6h7M1166.0,388.5h3.5M1166.0,368.4h3.5" stroke="#111" stroke-width="1.1" fill="none"/>
<text class="sans" x="1164.5" y="677.3" font-size="18" text-anchor="middle" fill="#111">-150</text>
<text class="sans" x="1264.9" y="677.3" font-size="18" text-anchor="middle" fill="#111">-100</text>
<text class="sans" x="1365.3" y="677.3" font-size="18" text-anchor="middle" fill="#111">-50</text>
<text class="sans" x="1467.3" y="677.3" font-size="18" text-anchor="middle" fill="#111">0</text>
<text class="sans" x="1160.3" y="414.6" font-size="18" text-anchor="end" fill="#111">50</text>
<text class="sans" x="1160.3" y="515.2" font-size="18" text-anchor="end" fill="#111">0</text>
<text class="sans" x="1160.3" y="615.8" font-size="18" text-anchor="end" fill="#111">-50</text>
<text class="sans" x="1393" y="687.4" font-size="18.5" font-weight="bold" textLength="48" lengthAdjust="spacingAndGlyphs" fill="#111">X [m]</text>
<text class="sans" transform="translate(1136.6 533.7) rotate(-90)" font-size="18.5" font-weight="bold" textLength="48" lengthAdjust="spacingAndGlyphs" fill="#111">Y [m]</text>
</g>
<g id="paneld">
<clipPath id="cp2"><rect x="1166.0" y="713.0" width="398.5999999999999" height="301.79999999999995"/></clipPath>
<rect x="1166.0" y="713.0" width="398.5999999999999" height="301.79999999999995" fill="#ec8e0a"/>
<g clip-path="url(#cp2)">
<g filter="url(#b20)">
<ellipse cx="1224" cy="740" rx="35" ry="21" fill="#eb8a08" opacity="0.8"/>
<ellipse cx="1394" cy="732" rx="40" ry="23" fill="#eb8a08" opacity="0.8"/>
<ellipse cx="1199" cy="1002" rx="50" ry="23" fill="#ea8808" opacity="0.8"/>
<ellipse cx="1358" cy="754" rx="46" ry="27" fill="#ea8808" opacity="0.8"/>
<ellipse cx="1314" cy="985" rx="30" ry="27" fill="#eb8a08" opacity="0.8"/>
<ellipse cx="1308" cy="998" rx="29" ry="24" fill="#eb8a08" opacity="0.8"/>
<ellipse cx="1544" cy="996" rx="47" ry="23" fill="#eb8a08" opacity="0.8"/>
<ellipse cx="1508" cy="714" rx="34" ry="18" fill="#eb8a08" opacity="0.8"/>
<ellipse cx="1396" cy="1003" rx="39" ry="29" fill="#e98406" opacity="0.8"/>
</g>
<g filter="url(#b12)">
<polygon points="1176.0,892.1 1176.0,827.7 1306.6,799.5 1386.9,779.4 1467.3,779.4 1487.4,831.7 1487.4,896.1 1467.3,948.4 1386.9,948.4 1306.6,924.3" fill="#f3ae0e" opacity="0.75"/>
</g>
<g filter="url(#b8)">
<polygon points="1210.1,860.9 1346.8,839.8 1386.9,815.6 1437.2,797.5 1475.3,809.6 1475.3,918.2 1437.2,930.3 1386.9,912.2 1346.8,884.0" fill="#f7c810" opacity="0.95"/>
</g>
<g filter="url(#b5)">
<ellipse cx="1427.1" cy="863.9" rx="57.3" ry="58.3" fill="#fdf010"/>
</g>
<clipPath id="cdl"><rect x="1327.3" y="763.9" width="144" height="200"/></clipPath>
<g filter="url(#b3)">
<g clip-path="url(#cdl)">
<ellipse cx="1433.1" cy="863.9" rx="48.2" ry="48.3" fill="#a0f070"/>
<ellipse cx="1437.2" cy="863.9" rx="40.2" ry="41.2" fill="#40e0d0"/>
<ellipse cx="1439.2" cy="863.9" rx="35.2" ry="36.2" fill="#10a0f8"/>
<ellipse cx="1443.2" cy="863.9" rx="35.2" ry="31.8" fill="#0840e8"/>
</g>
</g>
<clipPath id="cdr"><rect x="1470.3" y="763.9" width="140" height="200"/></clipPath>
<g filter="url(#b5)">
<g clip-path="url(#cdr)">
<ellipse cx="1470.3" cy="863.9" rx="42.5" ry="71.2" transform="rotate(-90 1470.3 863.9)" fill="#ec7010"/>
</g>
</g>
<g filter="url(#b3)">
<g clip-path="url(#cdr)">
<ellipse cx="1468.8" cy="863.9" rx="34.6" ry="63.6" transform="rotate(-90 1468.8 863.9)" fill="#e02808"/>
</g>
</g>
<g filter="url(#b1)">
<g clip-path="url(#cdl)">
<ellipse cx="1465.8" cy="863.9" rx="30.0" ry="60.1" transform="rotate(-90 1465.8 863.9)" fill="#0818c8"/>
</g>
<g clip-path="url(#cdr)">
<ellipse cx="1468.3" cy="863.9" rx="30.6" ry="60.4" transform="rotate(-90 1468.3 863.9)" fill="#d00808"/>
</g>
</g>
<ellipse cx="1467.3" cy="863.9" rx="28.3" ry="58.3" transform="rotate(-90 1467.3 863.9)" fill="#fff"/>
<path d="M1459.4,835.8L1464.2,847.6M1464.2,847.6l-2.0,-2.5M1464.2,847.6l-0.4,-3.2M1459.0,829.8L1459.4,835.8M1459.4,835.8l-0.5,-1.5M1459.4,835.8l0.3,-1.6M1456.7,815.7l0.3,4.4M1454.7,825.7L1455.6,836.0M1455.6,836.0l-0.6,-1.5M1455.6,836.0l0.3,-1.6M1455.0,818.7L1455.7,827.0M1455.7,827.0l-0.6,-1.5M1455.7,827.0l0.3,-1.6M1454.6,836.3L1457.7,849.5M1457.7,849.5l-1.6,-2.8M1457.7,849.5l0.2,-3.2M1455.2,830.8L1456.5,843.2M1456.5,843.2l-0.6,-1.5M1456.5,843.2l0.3,-1.6M1451.6,834.4L1453.5,848.1M1453.5,848.1l-0.6,-1.5M1453.5,848.1l0.2,-1.6M1449.3,837.0L1454.0,849.1M1454.0,849.1l-1.9,-2.5M1454.0,849.1l-0.3,-3.2M1446.4,833.0L1448.1,842.4M1448.1,842.4l-0.7,-1.4M1448.1,842.4l0.2,-1.6M1445.2,837.7L1450.4,846.1M1450.4,846.1l-2.4,-2.2M1450.4,846.1l-0.8,-3.1M1441.6,824.7L1443.3,833.3M1443.3,833.3l-0.7,-1.4M1443.3,833.3l0.1,-1.6M1441.7,820.5L1442.9,826.5M1442.9,826.5l-0.7,-1.4M1442.9,826.5l0.1,-1.6M1438.1,814.8L1439.3,820.3M1439.3,820.3l-0.8,-1.4M1439.3,820.3l0.1,-1.6M1442.3,838.3L1453.8,854.7M1453.8,854.7l-2.5,-2.0M1453.8,854.7l-1.0,-3.0M1434.2,813.5l0.9,3.6M1437.5,839.6L1450.9,856.3M1450.9,856.3l-2.6,-1.8M1450.9,856.3l-1.2,-3.0M1434.5,821.8L1436.3,828.1M1436.3,828.1l-0.9,-1.4M1436.3,828.1l0.0,-1.6M1435.6,840.1L1449.2,853.9M1449.2,853.9l-2.8,-1.6M1449.2,853.9l-1.5,-2.8M1429.6,835.3L1432.4,842.9M1432.4,842.9l-0.9,-1.3M1432.4,842.9l-0.1,-1.6M1422.8,814.8L1424.7,820.0M1424.7,820.0l-0.9,-1.3M1424.7,820.0l-0.1,-1.6M1430.4,841.9L1441.1,853.4M1441.1,853.4l-2.7,-1.6M1441.1,853.4l-1.4,-2.9M1426.9,836.0L1431.5,846.8M1431.5,846.8l-1.0,-1.2M1431.5,846.8l-0.2,-1.6M1423.4,829.1L1425.4,833.8M1425.4,833.8l-1.0,-1.2M1425.4,833.8l-0.2,-1.6M1428.8,842.6L1439.3,852.8M1439.3,852.8l-2.8,-1.5M1439.3,852.8l-1.6,-2.8M1414.1,818.8l1.8,3.7M1424.4,844.7L1441.8,857.2M1441.8,857.2l-3.0,-1.1M1441.8,857.2l-2.0,-2.5M1421.3,837.9L1424.0,843.1M1424.0,843.1l-1.1,-1.2M1424.0,843.1l-0.3,-1.6M1417.4,828.4L1421.5,836.0M1421.5,836.0l-1.1,-1.2M1421.5,836.0l-0.3,-1.6M1422.4,845.8L1442.7,864.5M1442.7,864.5l-2.9,-1.4M1442.7,864.5l-1.7,-2.7M1410.7,828.5L1413.1,832.6M1413.1,832.6l-1.2,-1.1M1413.1,832.6l-0.4,-1.6M1418.9,845.6L1422.2,850.6M1422.2,850.6l-1.2,-1.0M1422.2,850.6l-0.5,-1.5M1419.6,847.6L1436.3,872.3M1436.3,872.3l-2.5,-2.1M1436.3,872.3l-1.0,-3.0M1413.9,838.7L1418.0,844.7M1418.0,844.7l-1.2,-1.0M1418.0,844.7l-0.5,-1.5M1406.7,829.5l2.3,3.3M1415.3,842.7L1422.3,852.2M1422.3,852.2l-1.3,-1.0M1422.3,852.2l-0.6,-1.5M1408.5,835.7L1411.3,839.4M1411.3,839.4l-1.3,-1.0M1411.3,839.4l-0.6,-1.5M1417.3,849.3L1430.1,867.2M1430.1,867.2l-2.5,-2.0M1430.1,867.2l-1.1,-3.0M1409.7,838.3L1413.1,842.4M1413.1,842.4l-1.3,-0.9M1413.1,842.4l-0.6,-1.5M1415.4,851.0L1440.8,865.5M1440.8,865.5l-3.1,-0.8M1440.8,865.5l-2.2,-2.3M1413.0,853.6L1427.3,863.2M1427.3,863.2l-3.0,-1.0M1427.3,863.2l-2.1,-2.4M1406.4,847.4L1411.0,851.0M1411.0,851.0l-1.5,-0.6M1411.0,851.0l-0.9,-1.3M1411.5,855.6L1424.1,865.7M1424.1,865.7l-2.9,-1.2M1424.1,865.7l-1.8,-2.6M1395.4,845.7L1401.2,849.3M1401.2,849.3l-1.5,-0.4M1401.2,849.3l-1.1,-1.2M1406.3,853.3L1412.2,857.0M1412.2,857.0l-1.5,-0.4M1412.2,857.0l-1.1,-1.2M1392.4,842.9l3.8,2.4M1410.6,857.3L1438.6,871.3M1438.6,871.3l-3.1,-0.6M1438.6,871.3l-2.4,-2.2M1403.0,854.9L1409.9,857.6M1409.9,857.6l-1.6,-0.1M1409.9,857.6l-1.3,-1.0M1409.7,859.5L1424.6,866.1M1424.6,866.1l-3.2,-0.4M1424.6,866.1l-2.5,-2.1M1383.2,854.8L1389.6,856.5M1389.6,856.5l-1.6,0.0M1389.6,856.5l-1.4,-0.8M1409.1,861.7L1432.0,864.2M1432.0,864.2l-3.2,0.6M1432.0,864.2l-3.0,-1.2M1403.5,859.5L1416.9,861.6M1416.9,861.6l-1.6,0.2M1416.9,861.6l-1.4,-0.7M1385.0,856.0L1389.6,856.8M1389.6,856.8l-1.6,0.2M1389.6,856.8l-1.4,-0.7M1409.0,862.9L1440.6,866.1M1440.6,866.1l-3.1,0.6M1440.6,866.1l-3.0,-1.2M1400.4,860.4L1411.4,861.2M1411.4,861.2l-1.6,0.3M1411.4,861.2l-1.5,-0.6M1397.0,862.8L1401.6,862.7M1401.6,862.7l-1.5,0.5M1401.6,862.7l-1.5,-0.4M1409.1,865.7L1436.2,864.4M1436.2,864.4l-3.0,1.0M1436.2,864.4l-3.1,-0.7M1399.5,867.4L1410.7,865.8M1410.7,865.8l-1.5,0.6M1410.7,865.8l-1.6,-0.2M1396.8,870.0L1402.9,868.8M1402.9,868.8l-1.4,0.7M1402.9,868.8l-1.6,-0.2M1409.4,867.6L1441.9,863.3M1441.9,863.3l-2.9,1.3M1441.9,863.3l-3.2,-0.5M1399.6,869.4L1409.8,866.7M1409.8,866.7l-1.4,0.8M1409.8,866.7l-1.6,-0.0M1409.9,869.1L1431.9,868.1M1431.9,868.1l-3.0,1.0M1431.9,868.1l-3.1,-0.7M1400.0,874.2L1404.8,872.4M1404.8,872.4l-1.3,1.0M1404.8,872.4l-1.6,0.1M1396.2,875.0L1401.8,872.9M1401.8,872.9l-1.3,1.0M1401.8,872.9l-1.6,0.1M1411.1,871.5L1428.8,866.4M1428.8,866.4l-2.7,1.7M1428.8,866.4l-3.2,-0.0M1387.1,885.1L1391.4,882.6M1391.4,882.6l-1.1,1.2M1391.4,882.6l-1.6,0.4M1389.8,888.8L1394.4,885.7M1394.4,885.7l-1.0,1.2M1394.4,885.7l-1.5,0.5M1412.6,873.8L1428.8,865.8M1428.8,865.8l-2.4,2.2M1428.8,865.8l-3.2,0.6M1405.8,878.4L1413.5,872.5M1413.5,872.5l-1.0,1.3M1413.5,872.5l-1.5,0.6M1394.9,886.5L1400.0,882.7M1400.0,882.7l-1.0,1.3M1400.0,882.7l-1.5,0.6M1411.3,877.2L1415.9,873.2M1415.9,873.2l-0.9,1.3M1415.9,873.2l-1.5,0.7M1414.6,876.1L1428.5,863.7M1428.5,863.7l-1.7,2.7M1428.5,863.7l-2.9,1.4M1416.0,877.4L1435.9,863.6M1435.9,863.6l-2.0,2.5M1435.9,863.6l-3.0,1.0M1408.9,883.3L1417.3,873.8M1417.3,873.8l-0.7,1.4M1417.3,873.8l-1.4,0.8M1410.2,886.4L1415.4,880.0M1415.4,880.0l-0.6,1.5M1415.4,880.0l-1.3,0.9M1418.8,879.7L1436.4,860.3M1436.4,860.3l-1.4,2.9M1436.4,860.3l-2.7,1.7M1416.6,886.5L1423.8,876.5M1423.8,876.5l-0.5,1.5M1423.8,876.5l-1.3,1.0M1410.5,895.5L1414.7,889.5M1414.7,889.5l-0.5,1.5M1414.7,889.5l-1.3,1.0M1421.2,881.2L1431.6,873.0M1431.6,873.0l-1.9,2.6M1431.6,873.0l-3.0,1.2M1417.8,889.5L1420.8,884.7M1420.8,884.7l-0.4,1.5M1420.8,884.7l-1.2,1.1M1407.3,899.7l1.9,-3.1M1414.9,893.0L1420.0,884.7M1420.0,884.7l-0.4,1.5M1420.0,884.7l-1.2,1.1M1423.5,882.6L1439.2,869.8M1439.2,869.8l-1.8,2.6M1439.2,869.8l-2.9,1.2M1419.3,886.0L1424.1,877.2M1424.1,877.2l-0.4,1.6M1424.1,877.2l-1.1,1.1M1417.0,893.8L1420.3,887.5M1420.3,887.5l-0.3,1.6M1420.3,887.5l-1.1,1.2M1426.2,884.0L1434.3,875.2M1434.3,875.2l-1.4,2.9M1434.3,875.2l-2.7,1.7M1423.4,897.6L1427.5,888.6M1427.5,888.6l-0.2,1.6M1427.5,888.6l-1.0,1.2M1430.4,885.9L1440.0,868.9M1440.0,868.9l-0.7,3.1M1440.0,868.9l-2.3,2.2M1427.3,894.1L1430.7,884.9M1430.7,884.9l-0.1,1.6M1430.7,884.9l-1.0,1.3M1426.0,901.1L1427.9,896.3M1427.9,896.3l-0.1,1.6M1427.9,896.3l-1.0,1.3M1433.1,886.8L1442.6,872.6M1442.6,872.6l-1.0,3.0M1442.6,872.6l-2.5,2.1M1435.7,887.7L1442.4,875.3M1442.4,875.3l-0.7,3.1M1442.4,875.3l-2.2,2.3M1429.3,908.7l1.2,-3.9M1440.7,889.1L1452.5,875.0M1452.5,875.0l-1.3,2.9M1452.5,875.0l-2.7,1.8M1438.0,918.0l0.6,-2.8M1444.1,889.9L1447.0,880.6M1447.0,880.6l-0.1,3.2M1447.0,880.6l-1.8,2.7M1442.7,898.1L1444.5,889.4M1444.5,889.4l0.1,1.6M1444.5,889.4l-0.8,1.4M1439.5,904.7l0.9,-4.4M1447.4,890.5L1455.8,877.2M1455.8,877.2l-0.9,3.1M1455.8,877.2l-2.4,2.1M1443.9,901.4L1445.1,894.5M1445.1,894.5l0.2,1.6M1445.1,894.5l-0.7,1.4M1446.2,905.0L1448.1,894.5M1448.1,894.5l0.2,1.6M1448.1,894.5l-0.7,1.4M1451.5,891.2L1455.0,883.9M1455.0,883.9l-0.5,3.2M1455.0,883.9l-2.1,2.4M1449.8,898.6L1451.4,887.2M1451.4,887.2l0.2,1.6M1451.4,887.2l-0.6,1.5M1447.2,915.7l0.5,-3.4M1455.5,891.6L1459.0,878.3M1459.0,878.3l0.1,3.2M1459.0,878.3l-1.6,2.8M1454.6,899.2L1455.7,888.2M1455.7,888.2l0.3,1.6M1455.7,888.2l-0.6,1.5M1457.0,901.7L1457.7,890.1M1457.7,890.1l0.3,1.6M1457.7,890.1l-0.5,1.5M1456.8,920.2l0.3,-4.5M1474.4,892.0L1475.5,902.5M1475.5,902.5l-0.8,-2.0M1475.5,902.5l0.4,-2.2M1476.2,891.9L1476.8,900.4M1476.8,900.4l-0.8,-2.1M1476.8,900.4l0.4,-2.2M1479.2,891.6L1479.8,901.0M1479.8,901.0l-0.7,-2.1M1479.8,901.0l0.5,-2.1M1483.1,891.2L1482.5,903.3M1482.5,903.3l-0.5,-2.1M1482.5,903.3l0.7,-2.1M1486.8,890.6L1491.7,904.4M1491.7,904.4l-1.3,-1.8M1491.7,904.4l-0.1,-2.2M1487.5,890.5L1487.8,905.1M1487.8,905.1l-0.7,-2.1M1487.8,905.1l0.6,-2.1M1492.5,889.4L1495.0,896.3M1495.0,896.3l-1.3,-1.8M1495.0,896.3l-0.1,-2.2M1495.0,888.8L1497.7,896.6M1497.7,896.6l-1.3,-1.8M1497.7,896.6l-0.1,-2.2M1497.4,888.2L1499.5,896.2M1499.5,896.2l-1.1,-1.9M1499.5,896.2l0.0,-2.2M1500.4,887.2L1504.5,896.5M1504.5,896.5l-1.4,-1.7M1504.5,896.5l-0.3,-2.2M1503.6,886.1L1505.6,897.1M1505.6,897.1l-1.0,-2.0M1505.6,897.1l0.2,-2.2M1505.2,885.5L1511.5,895.5M1511.5,895.5l-1.6,-1.5M1511.5,895.5l-0.6,-2.1M1508.2,884.1L1511.7,897.5M1511.7,897.5l-1.1,-1.9M1511.7,897.5l0.1,-2.2M1510.2,883.1L1515.5,892.7M1515.5,892.7l-1.6,-1.6M1515.5,892.7l-0.5,-2.1M1512.9,881.6L1518.5,895.1M1518.5,895.1l-1.4,-1.7M1518.5,895.1l-0.2,-2.2M1514.1,880.8L1522.7,891.1M1522.7,891.1l-1.8,-1.2M1522.7,891.1l-0.9,-2.0M1516.0,879.5L1522.3,889.9M1522.3,889.9l-1.6,-1.5M1522.3,889.9l-0.6,-2.1M1517.9,878.0L1523.6,883.7M1523.6,883.7l-1.9,-1.1M1523.6,883.7l-1.1,-1.9M1519.1,876.9L1525.9,883.7M1525.9,883.7l-1.9,-1.1M1525.9,883.7l-1.1,-1.9M1520.9,875.1L1530.6,882.5M1530.6,882.5l-2.1,-0.8M1530.6,882.5l-1.3,-1.8M1522.0,873.7L1530.3,881.7M1530.3,881.7l-1.9,-1.0M1530.3,881.7l-1.1,-1.9M1522.8,872.6L1529.3,876.4M1529.3,876.4l-2.1,-0.5M1529.3,876.4l-1.5,-1.6M1524.1,870.3L1538.2,874.8M1538.2,874.8l-2.2,-0.1M1538.2,874.8l-1.8,-1.2M1524.5,869.4L1536.9,874.2M1536.9,874.2l-2.2,-0.2M1536.9,874.2l-1.8,-1.3M1525.3,867.0L1533.9,867.5M1533.9,867.5l-2.1,0.5M1533.9,867.5l-2.1,-0.7M1525.5,866.1L1536.4,870.1M1536.4,870.1l-2.2,-0.2M1536.4,870.1l-1.8,-1.3M1525.6,864.2L1535.1,866.3M1535.1,866.3l-2.2,0.1M1535.1,866.3l-1.9,-1.1M1525.6,863.1L1537.2,864.1M1537.2,864.1l-2.2,0.4M1537.2,864.1l-2.1,-0.8M1525.4,861.4L1532.4,858.9M1532.4,858.9l-1.8,1.3M1532.4,858.9l-2.2,0.1M1525.2,860.5L1532.4,859.8M1532.4,859.8l-2.0,0.8M1532.4,859.8l-2.2,-0.4M1524.4,858.0L1534.4,855.2M1534.4,855.2l-1.9,1.2M1534.4,855.2l-2.2,-0.0M1523.9,857.0L1531.4,854.8M1531.4,854.8l-1.9,1.2M1531.4,854.8l-2.2,0.0M1522.7,855.0L1528.7,850.0M1528.7,850.0l-1.2,1.8M1528.7,850.0l-2.0,0.9M1522.2,854.3L1531.5,847.5M1531.5,847.5l-1.3,1.7M1531.5,847.5l-2.1,0.8M1520.8,852.6L1529.5,847.5M1529.5,847.5l-1.5,1.6M1529.5,847.5l-2.1,0.5M1519.9,851.7L1524.8,846.5M1524.8,846.5l-1.0,2.0M1524.8,846.5l-1.9,1.1M1517.1,849.1L1526.2,839.0M1526.2,839.0l-1.0,2.0M1526.2,839.0l-1.9,1.2M1516.3,848.5L1522.0,838.5M1522.0,838.5l-0.5,2.1M1522.0,838.5l-1.6,1.5M1514.2,847.0L1518.8,836.8M1518.8,836.8l-0.3,2.2M1518.8,836.8l-1.4,1.7M1512.1,845.7L1521.4,835.0M1521.4,835.0l-0.9,2.0M1521.4,835.0l-1.9,1.2M1509.3,844.2L1514.2,830.3M1514.2,830.3l-0.1,2.2M1514.2,830.3l-1.3,1.8M1508.0,843.6L1515.2,832.2M1515.2,832.2l-0.6,2.1M1515.2,832.2l-1.6,1.5M1504.9,842.2L1511.1,830.7M1511.1,830.7l-0.5,2.2M1511.1,830.7l-1.5,1.6M1503.0,841.5L1506.7,828.0M1506.7,828.0l0.0,2.2M1506.7,828.0l-1.2,1.9M1499.4,840.3L1502.7,834.0M1502.7,834.0l-0.4,2.2M1502.7,834.0l-1.5,1.6M1498.7,840.0L1503.4,828.8M1503.4,828.8l-0.3,2.2M1503.4,828.8l-1.4,1.7M1493.4,838.6L1494.9,827.7M1494.9,827.7l0.3,2.2M1494.9,827.7l-0.9,2.0M1492.4,838.3L1493.3,826.5M1493.3,826.5l0.4,2.2M1493.3,826.5l-0.8,2.1M1488.7,837.5L1489.7,827.5M1489.7,827.5l0.4,2.2M1489.7,827.5l-0.8,2.0M1486.5,837.1L1487.3,829.2M1487.3,829.2l0.4,2.2M1487.3,829.2l-0.8,2.0M1483.1,836.6L1485.2,827.1M1485.2,827.1l0.1,2.2M1485.2,827.1l-1.1,1.9M1480.2,836.3L1482.6,823.4M1482.6,823.4l0.2,2.2M1482.6,823.4l-1.0,2.0M1476.3,835.9L1478.8,821.2M1478.8,821.2l0.2,2.2M1478.8,821.2l-1.0,2.0M1474.0,835.8L1474.3,828.7M1474.3,828.7l0.5,2.1M1474.3,828.7l-0.7,2.1M1463.3,837.7L1423.1,867.9M1423.1,867.9l4.2,-5.6M1423.1,867.9l6.5,-2.5M1467.3,892.1L1427.1,863.9M1427.1,863.9l6.6,2.3M1427.1,863.9l4.4,5.5M1463.3,835.7L1473.3,829.7M1473.3,829.7l-3.6,3.9M1473.3,829.7l-5.1,1.4" fill="none" stroke="#111" stroke-width="0.65" stroke-linecap="round"/>
<path d="M1532.3,847.3l-0.3,-0.5M1407.8,879.9l-0.3,-0.2M1359.6,817.0l-0.1,-0.7M1468.1,898.6l-0.9,-0.1M1440.5,920.6l1.4,-0.3M1369.7,894.6l-0.0,-1.2M1364.4,903.4l-0.7,-0.6M1385.2,829.1l0.3,-0.5M1503.4,891.2l-0.5,-1.2M1388.2,893.1l0.0,-1.4M1493.0,816.9l-0.3,-0.0M1424.4,931.6l-0.5,-0.0M1420.2,1002.8l-0.3,-0.9M1460.8,902.1l1.0,-0.6M1431.5,899.0l1.2,-1.0M1403.1,890.9l1.1,-0.5M1440.6,799.4l-1.3,-0.9M1402.3,859.9l-0.2,-0.3M1460.3,828.1l-0.9,-1.0M1427.3,779.5l-0.2,-1.3M1529.5,882.8l-1.6,-0.1M1466.1,910.5l-0.8,-0.2M1452.1,817.6l0.8,-0.8M1372.5,810.2l-0.5,-0.1M1422.8,793.0l-0.6,-0.7M1534.6,894.0l0.9,-0.4M1415.8,940.0l-1.4,-0.1M1422.1,839.4l0.5,-0.9M1471.5,793.9l-0.7,-0.4M1430.7,895.6l-0.6,-1.0M1443.4,906.2l0.1,-1.1M1440.7,909.5l0.8,-0.5M1499.2,831.6l-0.5,-0.5M1454.0,900.8l-0.3,-0.8M1503.0,820.3l0.1,-0.3M1426.4,904.7l-0.7,-0.3M1388.4,883.6l-1.0,-0.7M1491.0,892.4l-0.5,-0.1M1385.5,791.8l-0.4,-0.8M1401.9,800.8l0.2,-1.5M1460.7,896.3l0.2,-0.2M1455.8,827.5l0.8,-0.6M1425.3,954.4l-1.5,-0.2M1500.8,916.9l-0.7,-0.1M1484.0,908.6l1.0,-0.8M1415.6,811.8l-1.0,-0.0M1399.9,937.0l-0.5,-1.0M1380.7,896.8l-0.9,-0.9M1431.4,889.9l-1.2,-0.0M1413.4,879.4l0.9,-0.3M1431.0,816.5l0.2,-0.3M1514.6,904.1l-0.2,-0.5M1515.4,826.1l-0.7,-1.2M1425.0,832.4l0.4,-0.4M1407.9,807.7l-0.3,-1.2M1468.6,825.3l0.5,-0.9M1407.1,860.4l0.4,-0.6M1501.0,929.4l-0.8,-1.0M1443.4,820.4l0.5,-0.7M1461.9,896.8l-0.1,-1.4M1445.4,903.3l0.2,-0.5M1430.0,889.7l0.4,-0.6M1447.9,790.9l0.4,-0.7M1455.4,902.5l-0.8,-0.7M1449.7,892.8l-0.2,-0.9M1534.5,909.4l-0.7,-0.0M1397.1,799.1l-0.6,-0.5M1466.9,924.3l0.2,-0.2M1440.6,764.5l0.4,-0.0M1371.7,855.5l0.3,-0.4M1460.8,746.0l-1.3,-0.8M1397.8,912.5l0.3,-0.3M1423.7,895.5l-0.6,-1.4M1444.4,906.2l0.6,-0.6M1405.9,815.5l0.0,-0.7M1389.3,846.6l-0.4,-0.1M1477.9,819.8l0.7,-0.0M1414.6,806.0l-0.6,-0.1M1388.3,848.9l0.2,-1.2M1452.2,892.9l0.9,-0.8M1434.6,901.4l-0.2,-1.1M1447.3,817.4l-0.7,-0.2M1383.0,943.6l0.0,-0.7M1377.3,848.4l-1.1,-1.0M1508.8,906.7l-0.4,-0.4M1378.0,903.1l-0.3,-1.0M1467.2,923.0l0.2,-0.7M1444.1,821.4l0.8,-0.4M1460.3,967.3l-0.1,-0.3M1408.1,892.3l0.1,-1.2M1539.5,885.1l-0.7,-0.1M1408.3,874.8l-1.4,-0.5M1495.7,936.5l0.7,-0.0M1518.2,808.3l1.5,-0.0M1519.2,814.7l-0.9,-1.1M1407.8,857.0l0.3,-0.2M1524.5,804.8l-0.6,-0.2M1405.8,937.2l-0.3,-0.5M1445.0,916.7l0.1,-0.6M1425.6,839.2l0.1,-1.6M1536.6,853.3l-0.9,-0.3M1432.6,834.8l-0.5,-0.2M1527.0,925.3l0.5,-0.5M1421.4,915.8l0.6,-0.7M1450.9,800.4l-0.0,-1.4M1509.2,942.4l-0.3,-0.5M1382.0,891.7l-0.6,-0.7M1401.1,891.0l-0.5,-1.4M1422.1,834.9l0.3,-0.2M1390.0,902.0l-1.3,-0.7M1437.7,898.5l-0.8,-0.9M1438.1,825.8l0.5,-1.4M1392.5,893.5l-0.5,-0.4M1406.2,851.5l-1.0,-0.6M1380.2,857.0l0.2,-1.0M1497.4,825.4l-0.2,-0.3M1375.7,849.7l1.0,-0.2M1434.1,890.0l-0.3,-0.3M1448.2,908.4l0.4,-0.1M1513.9,894.8l-1.0,-0.9M1408.8,891.4l-0.5,-0.2M1446.2,892.2l-0.7,-0.8M1386.2,885.0l-0.2,-0.7M1410.7,899.1l-0.5,-0.2M1464.2,930.2l0.4,-0.4M1526.3,917.2l0.3,-0.2M1481.3,834.5l0.4,-0.6M1500.7,919.8l-0.3,-0.2M1375.9,831.1l0.1,-0.3M1476.9,813.7l-0.0,-0.3M1377.3,780.6l0.9,-0.1M1386.7,848.2l0.5,-0.7M1382.3,910.4l-0.2,-0.7M1498.1,913.1l0.1,-0.7M1398.2,903.1l0.2,-0.5M1426.2,839.0l-0.3,-0.4M1541.4,875.3l-0.9,-0.6M1434.2,939.4l-0.7,-0.1M1412.2,850.0l-1.2,-0.3M1407.8,893.4l-1.1,-0.1M1399.2,870.5l-1.3,-0.4M1405.7,923.8l-0.1,-0.7M1399.4,846.3l1.2,-0.4M1402.3,903.3l0.4,-0.3M1501.5,839.7l0.6,-1.3M1461.3,901.9l-1.2,-0.6M1502.9,896.0l0.2,-1.1M1436.5,902.4l-0.2,-1.0M1486.8,826.4l-0.4,-1.4M1396.2,843.6l-0.7,-0.7M1363.3,807.9l0.9,-1.3M1427.3,834.9l0.3,-0.8M1409.0,902.0l-1.3,-0.5M1428.0,775.9l-0.6,-0.8M1411.4,831.7l0.3,-1.2M1399.4,821.4l0.4,-0.6M1452.1,893.3l0.7,-0.4M1416.2,931.1l0.1,-0.9M1432.3,831.5l0.2,-0.2M1449.8,919.8l0.1,-1.4M1516.6,829.9l-0.0,-0.5M1503.5,807.4l0.8,-0.2M1437.1,823.4l-1.2,-0.5M1451.1,825.5l0.6,-1.2M1382.4,966.9l-0.9,-0.9M1476.7,799.7l-1.4,-0.7M1528.4,875.6l-1.0,-0.2M1385.0,847.3l-0.3,-0.3M1412.4,781.5l0.7,-0.9M1413.9,831.3l-0.3,-0.2M1422.1,813.4l1.0,-0.8M1391.5,844.6l-0.9,-0.7M1474.3,904.6l0.2,-0.4M1491.1,891.1l-0.6,-0.0M1405.9,852.4l1.5,-0.0M1429.2,892.0l-0.3,-1.0M1487.0,921.2l-0.7,-0.5M1414.8,848.6l-0.3,-0.7M1428.8,827.2l-0.5,-0.6M1417.2,741.3l-0.2,-0.6M1453.8,809.6l0.2,-0.8M1478.3,832.9l-0.1,-0.6M1480.8,805.9l0.7,-1.2M1416.3,744.6l0.0,-0.6M1361.3,801.0l0.8,-0.5M1536.7,812.1l-0.6,-1.2M1497.0,830.3l0.4,-0.1M1456.3,832.7l0.5,-0.4M1415.3,827.4l-1.5,-0.4M1404.5,891.4l-1.5,-0.3M1442.4,823.3l-1.2,-0.6M1419.0,896.0l-0.1,-0.7M1386.1,896.6l-0.3,-0.3M1460.0,919.6l1.2,-0.1M1495.5,911.2l-0.8,-1.0M1431.2,930.1l0.2,-0.7M1413.0,772.6l-0.8,-0.6M1397.2,801.5l-0.4,-0.2M1410.9,884.0l-0.9,-0.5M1455.9,816.8l0.6,-0.8M1423.3,842.6l0.7,-0.3M1411.2,827.6l0.2,-1.1M1533.6,858.3l0.7,-1.0M1426.5,888.6l0.5,-0.3M1478.3,831.6l0.2,-0.7M1453.0,940.4l-0.6,-0.4M1453.4,892.7l0.6,-0.5M1448.7,923.0l0.1,-0.5M1528.9,865.8l0.4,-0.3M1422.4,806.6l-1.4,-0.8M1397.0,949.7l-0.1,-0.3M1451.2,814.6l0.1,-0.3M1365.8,844.1l-0.8,-0.1M1292.4,842.8l0.4,-1.1M1170.3,923.9l0.5,-1.4M1171.4,866.5l0.5,-0.9M1344.4,971.0l1.1,-0.6M1236.1,830.5l0.8,-1.1M1242.9,809.3l0.1,-0.9M1446.9,964.5l-1.5,-0.1M1359.1,836.7l-0.6,-0.0M1399.4,852.9l0.6,-0.9M1267.8,727.3l-0.3,-0.4M1449.9,750.6l-0.3,-0.6M1435.8,987.1l0.3,-0.7M1541.2,970.2l0.5,-0.5M1552.2,772.6l-0.7,-0.5M1520.9,902.5l0.3,-0.3M1305.2,987.4l-1.1,-0.4M1312.5,939.0l-1.3,-0.7M1241.0,733.6l0.7,-1.3M1485.3,816.3l0.7,-0.1M1439.3,829.7l-1.1,-0.6M1267.0,870.6l0.4,-0.1M1365.4,748.2l-0.8,-1.2M1501.9,906.0l0.0,-1.0M1386.4,865.8l1.1,-0.3M1267.9,725.3l0.0,-0.7M1267.9,778.3l0.4,-0.2M1517.8,763.7l-1.4,-0.5M1544.6,959.3l0.0,-0.3M1464.4,721.7l0.3,-0.4M1391.2,853.4l0.2,-1.5M1515.7,817.0l0.2,-0.4M1474.8,934.3l-0.1,-0.8M1379.7,849.8l1.0,-0.9M1260.4,919.0l-1.3,-0.5M1455.0,776.5l0.6,-0.8M1244.3,735.1l0.9,-0.6M1324.5,915.6l0.8,-0.2M1485.1,943.3l0.0,-0.7M1390.8,814.4l-0.8,-0.7M1496.1,944.9l-0.7,-0.2M1544.2,829.0l-0.5,-1.0M1275.4,728.2l-0.6,-0.4M1338.7,829.1l-0.4,-0.6M1504.8,988.7l0.5,-1.4M1512.7,980.5l-1.2,-0.3M1197.6,848.1l1.5,-0.4M1214.8,725.4l-0.6,-0.7M1493.6,826.6l-0.4,-0.3M1502.0,834.3l1.1,-0.2M1444.8,720.0l0.8,-0.3M1390.0,981.4l0.8,-1.1M1393.6,825.6l-0.2,-1.3M1184.0,860.1l-0.2,-1.2M1363.8,903.9l-0.8,-1.2M1332.1,924.4l0.2,-1.1M1175.5,837.5l0.1,-1.0M1449.2,771.7l0.5,-0.1M1328.0,849.0l1.2,-0.8M1452.8,730.8l0.5,-0.4M1527.3,842.5l-0.0,-0.6M1300.6,890.9l0.9,-0.2M1382.0,982.9l-1.0,-0.8M1256.4,1005.7l-0.5,-0.0M1470.7,741.0l-0.6,-0.6M1190.9,835.2l-0.4,-0.6M1434.1,805.2l0.3,-0.0M1489.9,742.1l-0.1,-0.7M1542.5,856.1l0.9,-1.1M1559.1,846.9l0.3,-0.8M1353.9,783.3l1.1,-0.2M1190.0,987.1l0.4,-1.3M1305.2,824.8l0.2,-0.2M1401.6,973.5l-1.3,-0.4M1264.2,771.5l-0.9,-0.3M1444.3,916.4l1.0,-0.3M1461.0,902.6l0.7,-0.5M1404.8,941.0l-0.1,-0.7M1545.6,768.7l-1.1,-0.8M1405.4,919.7l-1.4,-0.2M1456.8,808.8l0.8,-0.4M1296.0,779.5l0.1,-0.6M1219.0,966.3l-0.1,-0.4M1533.2,764.1l-0.6,-1.0M1249.4,763.7l-0.2,-1.0M1307.3,877.1l1.4,-0.1M1276.9,738.2l0.2,-0.4M1261.1,896.8l0.0,-0.9M1247.9,960.5l0.4,-0.5M1247.7,760.6l0.2,-0.3M1270.9,997.7l0.8,-0.2M1371.3,748.9l0.6,-0.4M1453.0,777.6l0.4,-0.4M1298.0,794.0l-0.1,-1.6M1182.7,723.3l-0.1,-0.7M1544.8,904.6l0.3,-0.2M1174.7,843.7l-0.9,-0.2M1429.3,943.9l1.5,-0.0M1447.9,788.3l0.2,-0.8M1346.2,929.0l0.5,-0.5M1201.1,835.2l-0.7,-0.3M1213.3,899.8l-1.1,-0.1M1189.6,859.4l0.2,-0.8M1351.1,846.4l0.4,-0.7M1399.5,944.8l0.7,-0.1M1462.2,808.7l-0.1,-0.4M1422.9,741.6l-0.3,-1.3M1277.9,883.8l0.3,-0.2M1322.1,794.9l0.7,-1.0M1195.8,734.6l0.8,-1.2M1384.4,847.5l0.4,-1.3M1261.7,820.8l-0.2,-1.5M1354.8,720.9l0.6,-1.4M1436.1,792.0l-0.4,-0.3M1551.9,872.2l0.0,-1.4M1319.9,755.7l0.5,-0.4M1363.0,945.4l0.3,-0.6M1307.7,892.5l0.7,-1.4M1508.4,979.8l-0.6,-0.1M1400.9,763.7l-0.9,-0.8M1240.7,810.1l0.4,-0.5M1211.4,911.3l1.0,-1.1M1458.6,946.5l-0.1,-0.3M1479.9,782.3l0.4,-0.9M1227.2,873.0l-0.4,-0.3M1434.0,799.5l0.6,-1.4M1362.2,821.4l1.2,-0.1M1364.6,951.1l-0.2,-0.4M1255.4,890.4l0.9,-1.1M1185.3,999.9l1.1,-0.6M1348.3,871.4l-0.4,-1.3M1396.5,961.0l0.7,-0.8M1375.4,818.0l0.5,-0.2M1412.4,783.0l-1.2,-0.4M1254.9,829.2l-1.1,-0.1M1365.7,783.6l0.0,-0.9" fill="none" stroke="#222" stroke-width="0.9" stroke-linecap="round" opacity="0.8"/>
</g>
<path d="M1181,725.3L1243,725.3" stroke="#222" stroke-width="1.7" fill="none"/>
<path d="M1251,725.3l-14,-2.6l3,2.6l-3,2.6z" fill="#222"/>
<text class="sans" x="1183" y="745.3" font-size="18.5" font-weight="bold" textLength="61.5" lengthAdjust="spacingAndGlyphs" fill="#111">10 V/m</text>
<text class="serif" x="1326" y="741.8" font-size="33" fill="#000" textLength="86" lengthAdjust="spacingAndGlyphs">Case 3</text>
<text class="serif" x="1100.5" y="743.0" font-size="42" font-weight="bold" fill="#000">d)</text>
<line x1="1166.0" y1="713.0" x2="1166.0" y2="1015.5" stroke="#111" stroke-width="1.4"/>
<line x1="1165.3" y1="1014.8" x2="1564.6" y2="1014.8" stroke="#111" stroke-width="1.4"/>
<path d="M1166.0,1014.8v-6.5M1186.0,1014.8v-3.5M1206.1,1014.8v-3.5M1226.2,1014.8v-3.5M1246.3,1014.8v-3.5M1266.4,1014.8v-6.5M1286.5,1014.8v-3.5M1306.6,1014.8v-3.5M1326.7,1014.8v-3.5M1346.8,1014.8v-3.5M1366.8,1014.8v-6.5M1386.9,1014.8v-3.5M1407.0,1014.8v-3.5M1427.1,1014.8v-3.5M1447.2,1014.8v-3.5M1467.3,1014.8v-6.5M1487.4,1014.8v-3.5M1507.5,1014.8v-3.5M1527.6,1014.8v-3.5M1547.7,1014.8v-3.5M1166.0,1004.7h3.5M1166.0,984.6h3.5M1166.0,964.5h7M1166.0,944.4h3.5M1166.0,924.3h3.5M1166.0,904.1h3.5M1166.0,884.0h3.5M1166.0,863.9h7M1166.0,843.8h3.5M1166.0,823.7h3.5M1166.0,803.5h3.5M1166.0,783.4h3.5M1166.0,763.3h7M1166.0,743.2h3.5M1166.0,723.1h3.5" stroke="#111" stroke-width="1.1" fill="none"/>
<text class="sans" x="1164.5" y="1032.0" font-size="18" text-anchor="middle" fill="#111">-150</text>
<text class="sans" x="1264.9" y="1032.0" font-size="18" text-anchor="middle" fill="#111">-100</text>
<text class="sans" x="1365.3" y="1032.0" font-size="18" text-anchor="middle" fill="#111">-50</text>
<text class="sans" x="1467.3" y="1032.0" font-size="18" text-anchor="middle" fill="#111">0</text>
<text class="sans" x="1160.3" y="769.3" font-size="18" text-anchor="end" fill="#111">50</text>
<text class="sans" x="1160.3" y="869.9" font-size="18" text-anchor="end" fill="#111">0</text>
<text class="sans" x="1160.3" y="970.5" font-size="18" text-anchor="end" fill="#111">-50</text>
<text class="sans" x="1393" y="1042.1" font-size="18.5" font-weight="bold" textLength="48" lengthAdjust="spacingAndGlyphs" fill="#111">X [m]</text>
<text class="sans" transform="translate(1136.6 888.4) rotate(-90)" font-size="18.5" font-weight="bold" textLength="48" lengthAdjust="spacingAndGlyphs" fill="#111">Y [m]</text>
</g>
</svg></body></html>
